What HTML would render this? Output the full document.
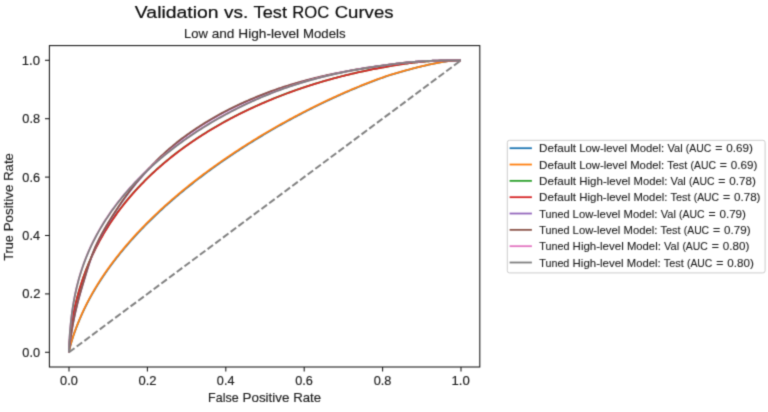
<!DOCTYPE html>
<html><head><meta charset="utf-8"><title>ROC</title>
<style>html,body{margin:0;padding:0;background:#fff}svg{display:block}text{font-family:"Liberation Sans",sans-serif;fill:#1c1c1c;stroke:#1c1c1c;stroke-width:0.1px}</style></head>
<body>
<svg width="768" height="412" viewBox="0 0 768 412">
<defs><filter id="b" x="0" y="0" width="768" height="412" filterUnits="userSpaceOnUse" color-interpolation-filters="sRGB"><feConvolveMatrix order="3" kernelMatrix="0.0246 0.1077 0.0246 0.1077 0.4706 0.1077 0.0246 0.1077 0.0246" edgeMode="duplicate" preserveAlpha="true"/></filter></defs>
<g filter="url(#b)">
<rect width="768" height="412" fill="#ffffff"/>
<g fill="none" stroke-width="1.8" stroke-linejoin="round" stroke-linecap="butt">
<path d="M69.00,352.30 L69.00,352.30 L69.00,352.30 L69.00,352.29 L69.00,352.28 L69.00,352.26 L69.01,352.24 L69.01,352.22 L69.01,352.19 L69.02,352.15 L69.02,352.11 L69.03,352.07 L69.03,352.02 L69.04,351.97 L69.05,351.91 L69.06,351.85 L69.07,351.78 L69.08,351.70 L69.10,351.62 L69.11,351.54 L69.13,351.45 L69.14,351.36 L69.16,351.26 L69.18,351.15 L69.20,351.04 L69.22,350.93 L69.24,350.81 L69.27,350.68 L69.29,350.55 L69.32,350.42 L69.35,350.28 L69.38,350.13 L69.41,349.98 L69.44,349.82 L69.47,349.66 L69.51,349.50 L69.55,349.32 L69.58,349.15 L69.62,348.97 L69.67,348.78 L69.71,348.59 L69.75,348.39 L69.80,348.19 L69.85,347.98 L69.90,347.77 L69.95,347.55 L70.01,347.33 L70.06,347.10 L70.12,346.87 L70.18,346.63 L70.24,346.39 L70.30,346.15 L70.37,345.89 L70.43,345.64 L70.50,345.38 L70.57,345.11 L70.65,344.84 L70.72,344.56 L70.80,344.28 L70.87,344.00 L70.96,343.71 L71.04,343.42 L71.12,343.12 L71.21,342.81 L71.30,342.50 L71.39,342.19 L71.48,341.87 L71.58,341.55 L71.67,341.22 L71.77,340.89 L71.87,340.56 L71.98,340.22 L72.08,339.87 L72.19,339.52 L72.30,339.17 L72.42,338.81 L72.53,338.45 L72.65,338.08 L72.77,337.71 L72.89,337.33 L73.01,336.95 L73.14,336.57 L73.27,336.18 L73.40,335.78 L73.53,335.39 L73.67,334.99 L73.81,334.58 L73.95,334.17 L74.09,333.76 L74.24,333.34 L74.39,332.92 L74.54,332.49 L74.69,332.06 L74.85,331.62 L75.01,331.19 L75.17,330.74 L75.33,330.30 L75.50,329.85 L75.67,329.39 L75.84,328.93 L76.01,328.47 L76.19,328.00 L76.37,327.53 L76.55,327.06 L76.73,326.58 L76.92,326.10 L77.11,325.61 L77.30,325.13 L77.50,324.63 L77.70,324.14 L77.90,323.64 L78.10,323.13 L78.31,322.62 L78.52,322.11 L78.73,321.60 L78.95,321.08 L79.16,320.56 L79.38,320.03 L79.61,319.50 L79.83,318.97 L80.06,318.43 L80.29,317.89 L80.53,317.35 L80.77,316.81 L81.01,316.26 L81.25,315.70 L81.50,315.15 L81.75,314.59 L82.00,314.03 L82.25,313.47 L82.51,312.91 L82.77,312.34 L83.04,311.77 L83.31,311.20 L83.58,310.62 L83.85,310.04 L84.13,309.47 L84.41,308.88 L84.69,308.30 L84.97,307.71 L85.26,307.13 L85.55,306.54 L85.85,305.94 L86.15,305.35 L86.45,304.75 L86.75,304.15 L87.06,303.55 L87.37,302.95 L87.69,302.34 L88.00,301.73 L88.32,301.12 L88.65,300.51 L88.97,299.90 L89.30,299.28 L89.64,298.67 L89.97,298.05 L90.31,297.42 L90.66,296.80 L91.00,296.18 L91.35,295.55 L91.71,294.92 L92.06,294.29 L92.42,293.66 L92.79,293.02 L93.15,292.39 L93.52,291.75 L93.90,291.11 L94.27,290.47 L94.65,289.83 L95.04,289.18 L95.42,288.54 L95.81,287.89 L96.21,287.24 L96.60,286.59 L97.00,285.94 L97.41,285.28 L97.82,284.63 L98.23,283.97 L98.64,283.31 L99.06,282.65 L99.48,281.99 L99.91,281.33 L100.34,280.66 L100.77,280.00 L101.20,279.33 L101.64,278.66 L102.09,277.99 L102.53,277.32 L102.98,276.64 L103.44,275.97 L103.89,275.29 L104.35,274.62 L104.82,273.94 L105.29,273.26 L105.76,272.58 L106.23,271.89 L106.71,271.21 L107.20,270.52 L107.68,269.84 L108.17,269.15 L108.67,268.46 L109.17,267.77 L109.67,267.08 L110.17,266.39 L110.68,265.69 L111.19,265.00 L111.71,264.30 L112.23,263.60 L112.75,262.91 L113.28,262.21 L113.81,261.51 L114.35,260.80 L114.89,260.10 L115.43,259.40 L115.98,258.69 L116.53,257.99 L117.08,257.28 L117.64,256.57 L118.20,255.86 L118.77,255.15 L119.34,254.44 L119.91,253.73 L120.49,253.01 L121.07,252.30 L121.66,251.58 L122.25,250.87 L122.84,250.15 L123.44,249.43 L124.04,248.71 L124.65,247.99 L125.26,247.27 L125.87,246.55 L126.49,245.83 L127.11,245.10 L127.74,244.38 L128.37,243.65 L129.00,242.93 L129.64,242.20 L130.28,241.47 L130.92,240.74 L131.57,240.01 L132.23,239.28 L132.89,238.55 L133.55,237.82 L134.21,237.08 L134.88,236.35 L135.56,235.62 L136.24,234.88 L136.92,234.14 L137.61,233.41 L138.30,232.67 L139.59,231.30 L140.88,229.94 L142.17,228.60 L143.46,227.27 L144.75,225.95 L146.04,224.64 L147.33,223.34 L148.62,222.05 L149.91,220.77 L151.20,219.51 L152.50,218.25 L153.79,217.00 L155.08,215.77 L156.37,214.54 L157.66,213.32 L158.95,212.11 L160.24,210.91 L161.53,209.72 L162.82,208.54 L164.11,207.36 L165.40,206.20 L166.69,205.04 L167.99,203.89 L169.28,202.75 L170.57,201.62 L171.86,200.49 L173.15,199.37 L174.44,198.26 L175.73,197.16 L177.02,196.06 L178.31,194.97 L179.60,193.89 L180.89,192.81 L182.18,191.74 L183.47,190.68 L184.77,189.62 L186.06,188.57 L187.35,187.53 L188.64,186.49 L189.93,185.46 L191.22,184.43 L192.51,183.42 L193.80,182.40 L195.09,181.39 L196.38,180.39 L197.67,179.40 L198.96,178.41 L200.26,177.42 L201.55,176.44 L202.84,175.47 L204.13,174.50 L205.42,173.54 L206.71,172.58 L208.00,171.62 L209.29,170.68 L210.58,169.73 L211.87,168.80 L213.16,167.86 L214.45,166.93 L215.75,166.01 L217.04,165.09 L218.33,164.18 L219.62,163.27 L220.91,162.36 L222.20,161.46 L223.49,160.57 L224.78,159.68 L226.07,158.79 L227.36,157.91 L228.65,157.03 L229.94,156.16 L231.24,155.29 L232.53,154.42 L233.82,153.56 L235.11,152.71 L236.40,151.85 L237.69,151.00 L238.98,150.16 L240.27,149.32 L241.56,148.48 L242.85,147.65 L244.14,146.82 L245.43,146.00 L246.72,145.18 L248.02,144.36 L249.31,143.55 L250.60,142.74 L251.89,141.93 L253.18,141.13 L254.47,140.33 L255.76,139.54 L257.05,138.75 L258.34,137.96 L259.63,137.17 L260.92,136.39 L262.21,135.62 L263.51,134.85 L264.80,134.08 L266.09,133.31 L267.38,132.55 L268.67,131.79 L269.96,131.03 L271.25,130.28 L272.54,129.53 L273.83,128.79 L275.12,128.05 L276.41,127.31 L277.70,126.57 L279.00,125.84 L280.29,125.11 L281.58,124.39 L282.87,123.67 L284.16,122.95 L285.45,122.23 L286.74,121.52 L288.03,120.81 L289.32,120.11 L290.61,119.41 L291.90,118.71 L293.19,118.01 L294.48,117.32 L295.78,116.63 L297.07,115.94 L298.36,115.26 L299.65,114.58 L300.94,113.90 L302.23,113.23 L303.52,112.56 L304.81,111.89 L306.10,111.23 L307.39,110.57 L308.68,109.91 L309.97,109.26 L311.27,108.61 L312.56,107.96 L313.85,107.31 L315.14,106.67 L316.43,106.03 L317.72,105.40 L319.01,104.76 L320.30,104.14 L321.59,103.51 L322.88,102.89 L324.17,102.27 L325.46,101.65 L326.76,101.04 L328.05,100.43 L329.34,99.82 L330.63,99.21 L331.92,98.61 L333.21,98.02 L334.50,97.42 L335.79,96.83 L337.08,96.24 L338.37,95.66 L339.66,95.07 L340.95,94.50 L342.25,93.92 L343.54,93.35 L344.83,92.78 L346.12,92.21 L347.41,91.65 L348.70,91.09 L349.99,90.54 L351.28,89.99 L352.57,89.44 L353.86,88.89 L355.15,88.35 L356.44,87.81 L357.73,87.27 L359.03,86.74 L360.32,86.21 L361.61,85.69 L362.90,85.17 L364.19,84.65 L365.48,84.13 L366.77,83.62 L368.06,83.12 L369.35,82.61 L370.64,82.11 L371.93,81.62 L373.22,81.12 L374.52,80.63 L375.81,80.15 L377.10,79.67 L378.39,79.19 L379.68,78.72 L380.97,78.25 L382.26,77.78 L383.55,77.32 L384.84,76.86 L386.13,76.41 L387.42,75.96 L388.71,75.51 L390.01,75.11 L391.30,74.72 L392.59,74.33 L393.88,73.95 L395.17,73.56 L396.46,73.18 L397.75,72.80 L399.04,72.43 L400.33,72.05 L401.62,71.68 L402.91,71.31 L404.20,70.95 L405.49,70.59 L406.79,70.23 L408.08,69.87 L409.37,69.52 L410.66,69.17 L411.95,68.83 L413.24,68.49 L414.53,68.15 L415.82,67.81 L417.11,67.48 L418.40,67.16 L419.69,66.84 L420.98,66.52 L422.28,66.21 L423.57,65.91 L424.86,65.60 L426.15,65.31 L427.44,65.01 L428.73,64.72 L430.02,64.43 L431.31,64.15 L432.60,63.87 L433.89,63.59 L435.18,63.33 L436.47,63.08 L437.77,62.83 L439.06,62.59 L440.35,62.36 L441.64,62.15 L442.93,61.94 L444.22,61.74 L445.51,61.55 L446.80,61.37 L448.09,61.20 L449.38,61.04 L450.67,60.89 L451.96,60.76 L453.26,60.64 L454.55,60.53 L455.84,60.45 L457.13,60.38 L458.42,60.34 L459.71,60.31 L461.00,60.30" stroke="#1f77b4"/>
<path d="M69.00,352.30 L69.00,352.30 L69.00,352.29 L69.00,352.29 L69.00,352.28 L69.00,352.26 L69.01,352.24 L69.01,352.21 L69.01,352.18 L69.02,352.15 L69.02,352.11 L69.03,352.07 L69.03,352.02 L69.04,351.96 L69.05,351.90 L69.06,351.84 L69.07,351.77 L69.08,351.69 L69.10,351.61 L69.11,351.53 L69.13,351.44 L69.14,351.34 L69.16,351.24 L69.18,351.13 L69.20,351.02 L69.22,350.90 L69.24,350.78 L69.27,350.66 L69.29,350.52 L69.32,350.38 L69.35,350.24 L69.38,350.09 L69.41,349.94 L69.44,349.78 L69.47,349.62 L69.51,349.45 L69.55,349.28 L69.58,349.10 L69.62,348.91 L69.67,348.72 L69.71,348.53 L69.75,348.33 L69.80,348.12 L69.85,347.91 L69.90,347.70 L69.95,347.48 L70.01,347.26 L70.06,347.03 L70.12,346.79 L70.18,346.55 L70.24,346.31 L70.30,346.06 L70.37,345.80 L70.43,345.54 L70.50,345.28 L70.57,345.01 L70.65,344.74 L70.72,344.46 L70.80,344.17 L70.87,343.88 L70.96,343.59 L71.04,343.29 L71.12,342.99 L71.21,342.68 L71.30,342.37 L71.39,342.06 L71.48,341.73 L71.58,341.41 L71.67,341.08 L71.77,340.74 L71.87,340.40 L71.98,340.06 L72.08,339.71 L72.19,339.36 L72.30,339.00 L72.42,338.64 L72.53,338.27 L72.65,337.90 L72.77,337.53 L72.89,337.15 L73.01,336.76 L73.14,336.37 L73.27,335.98 L73.40,335.58 L73.53,335.18 L73.67,334.78 L73.81,334.37 L73.95,333.95 L74.09,333.54 L74.24,333.11 L74.39,332.69 L74.54,332.26 L74.69,331.82 L74.85,331.39 L75.01,330.94 L75.17,330.50 L75.33,330.05 L75.50,329.59 L75.67,329.13 L75.84,328.67 L76.01,328.20 L76.19,327.73 L76.37,327.26 L76.55,326.78 L76.73,326.30 L76.92,325.81 L77.11,325.33 L77.30,324.83 L77.50,324.34 L77.70,323.84 L77.90,323.33 L78.10,322.82 L78.31,322.31 L78.52,321.80 L78.73,321.28 L78.95,320.76 L79.16,320.23 L79.38,319.70 L79.61,319.17 L79.83,318.63 L80.06,318.09 L80.29,317.55 L80.53,317.00 L80.77,316.45 L81.01,315.90 L81.25,315.34 L81.50,314.78 L81.75,314.22 L82.00,313.66 L82.25,313.09 L82.51,312.52 L82.77,311.95 L83.04,311.38 L83.31,310.80 L83.58,310.23 L83.85,309.64 L84.13,309.06 L84.41,308.48 L84.69,307.89 L84.97,307.30 L85.26,306.71 L85.55,306.11 L85.85,305.52 L86.15,304.92 L86.45,304.32 L86.75,303.72 L87.06,303.11 L87.37,302.50 L87.69,301.89 L88.00,301.28 L88.32,300.67 L88.65,300.06 L88.97,299.44 L89.30,298.82 L89.64,298.20 L89.97,297.58 L90.31,296.95 L90.66,296.32 L91.00,295.70 L91.35,295.07 L91.71,294.43 L92.06,293.80 L92.42,293.17 L92.79,292.53 L93.15,291.89 L93.52,291.25 L93.90,290.61 L94.27,289.96 L94.65,289.32 L95.04,288.67 L95.42,288.02 L95.81,287.37 L96.21,286.72 L96.60,286.06 L97.00,285.41 L97.41,284.75 L97.82,284.09 L98.23,283.43 L98.64,282.77 L99.06,282.11 L99.48,281.44 L99.91,280.78 L100.34,280.11 L100.77,279.44 L101.20,278.77 L101.64,278.10 L102.09,277.42 L102.53,276.75 L102.98,276.07 L103.44,275.40 L103.89,274.72 L104.35,274.04 L104.82,273.36 L105.29,272.68 L105.76,271.99 L106.23,271.31 L106.71,270.62 L107.20,269.93 L107.68,269.24 L108.17,268.55 L108.67,267.86 L109.17,267.17 L109.67,266.48 L110.17,265.78 L110.68,265.09 L111.19,264.39 L111.71,263.69 L112.23,262.99 L112.75,262.29 L113.28,261.59 L113.81,260.89 L114.35,260.18 L114.89,259.48 L115.43,258.77 L115.98,258.06 L116.53,257.36 L117.08,256.65 L117.64,255.94 L118.20,255.23 L118.77,254.51 L119.34,253.80 L119.91,253.09 L120.49,252.37 L121.07,251.66 L121.66,250.94 L122.25,250.22 L122.84,249.50 L123.44,248.78 L124.04,248.06 L124.65,247.34 L125.26,246.62 L125.87,245.89 L126.49,245.17 L127.11,244.44 L127.74,243.72 L128.37,242.99 L129.00,242.26 L129.64,241.53 L130.28,240.80 L130.92,240.07 L131.57,239.34 L132.23,238.61 L132.89,237.88 L133.55,237.14 L134.21,236.41 L134.88,235.67 L135.56,234.94 L136.24,234.20 L136.92,233.46 L137.61,232.73 L138.30,231.99 L139.59,230.62 L140.88,229.26 L142.17,227.91 L143.46,226.58 L144.75,225.26 L146.04,223.95 L147.33,222.65 L148.62,221.36 L149.91,220.08 L151.20,218.81 L152.50,217.55 L153.79,216.31 L155.08,215.07 L156.37,213.84 L157.66,212.62 L158.95,211.41 L160.24,210.21 L161.53,209.02 L162.82,207.84 L164.11,206.67 L165.40,205.50 L166.69,204.34 L167.99,203.19 L169.28,202.05 L170.57,200.92 L171.86,199.79 L173.15,198.67 L174.44,197.56 L175.73,196.46 L177.02,195.36 L178.31,194.27 L179.60,193.19 L180.89,192.12 L182.18,191.05 L183.47,189.99 L184.77,188.93 L186.06,187.88 L187.35,186.84 L188.64,185.80 L189.93,184.77 L191.22,183.75 L192.51,182.73 L193.80,181.72 L195.09,180.71 L196.38,179.71 L197.67,178.72 L198.96,177.73 L200.26,176.74 L201.55,175.77 L202.84,174.79 L204.13,173.83 L205.42,172.87 L206.71,171.91 L208.00,170.96 L209.29,170.01 L210.58,169.07 L211.87,168.13 L213.16,167.20 L214.45,166.28 L215.75,165.36 L217.04,164.44 L218.33,163.53 L219.62,162.62 L220.91,161.72 L222.20,160.82 L223.49,159.93 L224.78,159.04 L226.07,158.15 L227.36,157.27 L228.65,156.40 L229.94,155.53 L231.24,154.66 L232.53,153.80 L233.82,152.94 L235.11,152.08 L236.40,151.23 L237.69,150.39 L238.98,149.54 L240.27,148.71 L241.56,147.87 L242.85,147.04 L244.14,146.22 L245.43,145.39 L246.72,144.58 L248.02,143.76 L249.31,142.95 L250.60,142.15 L251.89,141.34 L253.18,140.54 L254.47,139.75 L255.76,138.96 L257.05,138.17 L258.34,137.38 L259.63,136.60 L260.92,135.83 L262.21,135.05 L263.51,134.28 L264.80,133.52 L266.09,132.75 L267.38,132.00 L268.67,131.24 L269.96,130.49 L271.25,129.74 L272.54,128.99 L273.83,128.25 L275.12,127.51 L276.41,126.78 L277.70,126.05 L279.00,125.32 L280.29,124.59 L281.58,123.87 L282.87,123.15 L284.16,122.44 L285.45,121.73 L286.74,121.02 L288.03,120.31 L289.32,119.61 L290.61,118.91 L291.90,118.22 L293.19,117.53 L294.48,116.84 L295.78,116.15 L297.07,115.47 L298.36,114.79 L299.65,114.11 L300.94,113.44 L302.23,112.77 L303.52,112.10 L304.81,111.44 L306.10,110.78 L307.39,110.12 L308.68,109.47 L309.97,108.82 L311.27,108.17 L312.56,107.53 L313.85,106.89 L315.14,106.25 L316.43,105.61 L317.72,104.98 L319.01,104.35 L320.30,103.73 L321.59,103.11 L322.88,102.49 L324.17,101.87 L325.46,101.26 L326.76,100.65 L328.05,100.04 L329.34,99.44 L330.63,98.84 L331.92,98.24 L333.21,97.65 L334.50,97.06 L335.79,96.47 L337.08,95.89 L338.37,95.30 L339.66,94.73 L340.95,94.15 L342.25,93.58 L343.54,93.01 L344.83,92.45 L346.12,91.89 L347.41,91.33 L348.70,90.77 L349.99,90.22 L351.28,89.68 L352.57,89.13 L353.86,88.59 L355.15,88.05 L356.44,87.52 L357.73,86.99 L359.03,86.46 L360.32,85.93 L361.61,85.41 L362.90,84.89 L364.19,84.38 L365.48,83.87 L366.77,83.36 L368.06,82.86 L369.35,82.36 L370.64,81.87 L371.93,81.37 L373.22,80.88 L374.52,80.40 L375.81,79.92 L377.10,79.44 L378.39,78.97 L379.68,78.50 L380.97,78.03 L382.26,77.57 L383.55,77.11 L384.84,76.66 L386.13,76.21 L387.42,75.77 L388.71,75.32 L390.01,74.93 L391.30,74.54 L392.59,74.16 L393.88,73.77 L395.17,73.39 L396.46,73.02 L397.75,72.64 L399.04,72.27 L400.33,71.90 L401.62,71.53 L402.91,71.17 L404.20,70.81 L405.49,70.45 L406.79,70.10 L408.08,69.75 L409.37,69.40 L410.66,69.05 L411.95,68.71 L413.24,68.37 L414.53,68.04 L415.82,67.71 L417.11,67.38 L418.40,67.06 L419.69,66.75 L420.98,66.43 L422.28,66.13 L423.57,65.83 L424.86,65.53 L426.15,65.23 L427.44,64.94 L428.73,64.65 L430.02,64.37 L431.31,64.09 L432.60,63.81 L433.89,63.54 L435.18,63.28 L436.47,63.03 L437.77,62.79 L439.06,62.55 L440.35,62.33 L441.64,62.11 L442.93,61.91 L444.22,61.71 L445.51,61.52 L446.80,61.35 L448.09,61.18 L449.38,61.02 L450.67,60.88 L451.96,60.75 L453.26,60.63 L454.55,60.53 L455.84,60.44 L457.13,60.38 L458.42,60.34 L459.71,60.31 L461.00,60.30" stroke="#ff7f0e"/>
<path d="M69.00,352.30 L69.00,352.29 L69.00,352.24 L69.00,352.18 L69.00,352.10 L69.00,351.99 L69.01,351.87 L69.01,351.73 L69.01,351.57 L69.02,351.40 L69.02,351.21 L69.03,351.01 L69.03,350.80 L69.04,350.57 L69.05,350.32 L69.06,350.07 L69.07,349.80 L69.08,349.52 L69.10,349.23 L69.11,348.93 L69.13,348.62 L69.14,348.29 L69.16,347.96 L69.18,347.61 L69.20,347.26 L69.22,346.89 L69.24,346.52 L69.27,346.14 L69.29,345.74 L69.32,345.34 L69.35,344.93 L69.38,344.52 L69.41,344.09 L69.44,343.65 L69.47,343.21 L69.51,342.76 L69.55,342.30 L69.58,341.84 L69.62,341.37 L69.67,340.89 L69.71,340.40 L69.75,339.91 L69.80,339.41 L69.85,338.90 L69.90,338.38 L69.95,337.86 L70.01,337.34 L70.06,336.80 L70.12,336.27 L70.18,335.72 L70.24,335.17 L70.30,334.61 L70.37,334.05 L70.43,333.49 L70.50,332.91 L70.57,332.33 L70.65,331.75 L70.72,331.16 L70.80,330.57 L70.87,329.97 L70.96,329.37 L71.04,328.76 L71.12,328.15 L71.21,327.53 L71.30,326.91 L71.39,326.28 L71.48,325.65 L71.58,325.01 L71.67,324.37 L71.77,323.73 L71.87,323.08 L71.98,322.43 L72.08,321.78 L72.19,321.12 L72.30,320.45 L72.42,319.79 L72.53,319.12 L72.65,318.44 L72.77,317.76 L72.89,317.08 L73.01,316.40 L73.14,315.71 L73.27,315.02 L73.40,314.32 L73.53,313.63 L73.67,312.93 L73.81,312.22 L73.95,311.52 L74.09,310.81 L74.24,310.11 L74.39,309.40 L74.54,308.68 L74.69,307.97 L74.85,307.25 L75.01,306.53 L75.17,305.81 L75.33,305.09 L75.50,304.36 L75.67,303.64 L75.84,302.91 L76.01,302.18 L76.19,301.45 L76.37,300.72 L76.55,299.98 L76.73,299.24 L76.92,298.51 L77.11,297.77 L77.30,297.03 L77.50,296.28 L77.70,295.54 L77.90,294.80 L78.10,294.05 L78.31,293.30 L78.52,292.55 L78.73,291.80 L78.95,291.05 L79.16,290.30 L79.38,289.55 L79.61,288.79 L79.83,288.04 L80.06,287.28 L80.29,286.52 L80.53,285.77 L80.77,285.01 L81.01,284.25 L81.25,283.49 L81.50,282.72 L81.75,281.96 L82.00,281.20 L82.25,280.43 L82.51,279.67 L82.77,278.90 L83.04,278.14 L83.31,277.37 L83.58,276.60 L83.85,275.83 L84.13,275.06 L84.41,274.29 L84.69,273.52 L84.97,272.75 L85.26,271.98 L85.55,271.21 L85.85,270.44 L86.15,269.67 L86.45,268.89 L86.75,268.12 L87.06,267.34 L87.37,266.57 L87.69,265.79 L88.00,265.02 L88.32,264.24 L88.65,263.47 L88.97,262.69 L89.30,261.92 L89.64,261.14 L89.97,260.36 L90.31,259.59 L90.66,258.81 L91.00,258.03 L91.35,257.25 L91.71,256.47 L92.06,255.70 L92.42,254.92 L92.79,254.14 L93.15,253.36 L93.52,252.58 L93.90,251.81 L94.27,251.03 L94.65,250.25 L95.04,249.47 L95.42,248.69 L95.81,247.91 L96.21,247.13 L96.60,246.35 L97.00,245.58 L97.41,244.80 L97.82,244.02 L98.23,243.24 L98.64,242.46 L99.06,241.68 L99.48,240.91 L99.91,240.13 L100.34,239.35 L100.77,238.57 L101.20,237.80 L101.64,237.02 L102.09,236.24 L102.53,235.47 L102.98,234.69 L103.44,233.91 L103.89,233.14 L104.35,232.36 L104.82,231.58 L105.29,230.81 L105.76,230.03 L106.23,229.26 L106.71,228.49 L107.20,227.71 L107.68,226.94 L108.17,226.16 L108.67,225.39 L109.17,224.62 L109.67,223.85 L110.17,223.08 L110.68,222.30 L111.19,221.53 L111.71,220.76 L112.23,219.99 L112.75,219.22 L113.28,218.45 L113.81,217.68 L114.35,216.92 L114.89,216.15 L115.43,215.38 L115.98,214.61 L116.53,213.85 L117.08,213.08 L117.64,212.32 L118.20,211.55 L118.77,210.79 L119.34,210.02 L119.91,209.26 L120.49,208.50 L121.07,207.74 L121.66,206.98 L122.25,206.22 L122.84,205.46 L123.44,204.70 L124.04,203.94 L124.65,203.18 L125.26,202.42 L125.87,201.67 L126.49,200.91 L127.11,200.15 L127.74,199.40 L128.37,198.65 L129.00,197.89 L129.64,197.14 L130.28,196.39 L130.92,195.64 L131.57,194.89 L132.23,194.14 L132.89,193.39 L133.55,192.64 L134.21,191.89 L134.88,191.15 L135.56,190.40 L136.24,189.66 L136.92,188.91 L137.61,188.17 L138.30,187.43 L139.59,186.05 L140.88,184.70 L142.17,183.36 L143.46,182.04 L144.75,180.74 L146.04,179.45 L147.33,178.18 L148.62,176.92 L149.91,175.68 L151.20,174.45 L152.50,173.24 L153.79,172.04 L155.08,170.85 L156.37,169.68 L157.66,168.52 L158.95,167.38 L160.24,166.25 L161.53,165.12 L162.82,164.02 L164.11,162.92 L165.40,161.83 L166.69,160.76 L167.99,159.70 L169.28,158.64 L170.57,157.60 L171.86,156.57 L173.15,155.55 L174.44,154.54 L175.73,153.54 L177.02,152.55 L178.31,151.57 L179.60,150.60 L180.89,149.64 L182.18,148.69 L183.47,147.74 L184.77,146.81 L186.06,145.88 L187.35,144.96 L188.64,144.06 L189.93,143.15 L191.22,142.26 L192.51,141.38 L193.80,140.50 L195.09,139.63 L196.38,138.77 L197.67,137.92 L198.96,137.08 L200.26,136.24 L201.55,135.41 L202.84,134.59 L204.13,133.77 L205.42,132.96 L206.71,132.16 L208.00,131.36 L209.29,130.58 L210.58,129.79 L211.87,129.02 L213.16,128.25 L214.45,127.49 L215.75,126.73 L217.04,125.99 L218.33,125.24 L219.62,124.51 L220.91,123.78 L222.20,123.05 L223.49,122.33 L224.78,121.62 L226.07,120.91 L227.36,120.21 L228.65,119.52 L229.94,118.83 L231.24,118.15 L232.53,117.47 L233.82,116.79 L235.11,116.13 L236.40,115.47 L237.69,114.81 L238.98,114.16 L240.27,113.51 L241.56,112.87 L242.85,112.24 L244.14,111.60 L245.43,110.98 L246.72,110.36 L248.02,109.74 L249.31,109.13 L250.60,108.53 L251.89,107.93 L253.18,107.33 L254.47,106.74 L255.76,106.15 L257.05,105.57 L258.34,104.99 L259.63,104.42 L260.92,103.85 L262.21,103.29 L263.51,102.73 L264.80,102.17 L266.09,101.62 L267.38,101.08 L268.67,100.54 L269.96,100.00 L271.25,99.47 L272.54,98.94 L273.83,98.41 L275.12,97.89 L276.41,97.38 L277.70,96.87 L279.00,96.36 L280.29,95.85 L281.58,95.35 L282.87,94.86 L284.16,94.37 L285.45,93.88 L286.74,93.40 L288.03,92.92 L289.32,92.44 L290.61,91.97 L291.90,91.50 L293.19,91.04 L294.48,90.58 L295.78,90.12 L297.07,89.67 L298.36,89.22 L299.65,88.78 L300.94,88.34 L302.23,87.90 L303.52,87.47 L304.81,87.04 L306.10,86.61 L307.39,86.19 L308.68,85.77 L309.97,85.35 L311.27,84.94 L312.56,84.53 L313.85,84.13 L315.14,83.73 L316.43,83.33 L317.72,82.94 L319.01,82.55 L320.30,82.16 L321.59,81.78 L322.88,81.40 L324.17,81.02 L325.46,80.65 L326.76,80.28 L328.05,79.91 L329.34,79.55 L330.63,79.19 L331.92,78.83 L333.21,78.48 L334.50,78.13 L335.79,77.79 L337.08,77.44 L338.37,77.10 L339.66,76.77 L340.95,76.44 L342.25,76.11 L343.54,75.78 L344.83,75.46 L346.12,75.14 L347.41,74.83 L348.70,74.51 L349.99,74.20 L351.28,73.90 L352.57,73.60 L353.86,73.30 L355.15,73.00 L356.44,72.71 L357.73,72.42 L359.03,72.13 L360.32,71.85 L361.61,71.57 L362.90,71.29 L364.19,71.02 L365.48,70.75 L366.77,70.49 L368.06,70.22 L369.35,69.96 L370.64,69.71 L371.93,69.45 L373.22,69.20 L374.52,68.95 L375.81,68.71 L377.10,68.47 L378.39,68.23 L379.68,67.98 L380.97,67.73 L382.26,67.49 L383.55,67.25 L384.84,67.01 L386.13,66.78 L387.42,66.55 L388.71,66.32 L390.01,66.09 L391.30,65.87 L392.59,65.65 L393.88,65.44 L395.17,65.23 L396.46,65.02 L397.75,64.82 L399.04,64.62 L400.33,64.42 L401.62,64.23 L402.91,64.04 L404.20,63.86 L405.49,63.68 L406.79,63.51 L408.08,63.34 L409.37,63.17 L410.66,63.01 L411.95,62.85 L413.24,62.69 L414.53,62.54 L415.82,62.39 L417.11,62.25 L418.40,62.11 L419.69,61.98 L420.98,61.86 L422.28,61.75 L423.57,61.65 L424.86,61.55 L426.15,61.45 L427.44,61.36 L428.73,61.28 L430.02,61.20 L431.31,61.12 L432.60,61.04 L433.89,60.98 L435.18,60.91 L436.47,60.85 L437.77,60.79 L439.06,60.74 L440.35,60.69 L441.64,60.65 L442.93,60.61 L444.22,60.57 L445.51,60.53 L446.80,60.49 L448.09,60.46 L449.38,60.43 L450.67,60.41 L451.96,60.38 L453.26,60.36 L454.55,60.35 L455.84,60.33 L457.13,60.32 L458.42,60.31 L459.71,60.30 L461.00,60.30" stroke="#2ca02c"/>
<path d="M69.00,352.30 L69.00,352.29 L69.00,352.24 L69.00,352.18 L69.00,352.10 L69.00,351.99 L69.01,351.87 L69.01,351.73 L69.01,351.58 L69.02,351.41 L69.02,351.22 L69.03,351.02 L69.03,350.80 L69.04,350.58 L69.05,350.34 L69.06,350.08 L69.07,349.81 L69.08,349.54 L69.10,349.25 L69.11,348.95 L69.13,348.63 L69.14,348.31 L69.16,347.98 L69.18,347.64 L69.20,347.28 L69.22,346.92 L69.24,346.55 L69.27,346.17 L69.29,345.78 L69.32,345.38 L69.35,344.97 L69.38,344.55 L69.41,344.13 L69.44,343.69 L69.47,343.25 L69.51,342.80 L69.55,342.35 L69.58,341.88 L69.62,341.41 L69.67,340.94 L69.71,340.45 L69.75,339.96 L69.80,339.46 L69.85,338.95 L69.90,338.44 L69.95,337.92 L70.01,337.40 L70.06,336.87 L70.12,336.33 L70.18,335.79 L70.24,335.24 L70.30,334.68 L70.37,334.12 L70.43,333.56 L70.50,332.99 L70.57,332.41 L70.65,331.83 L70.72,331.24 L70.80,330.65 L70.87,330.05 L70.96,329.45 L71.04,328.85 L71.12,328.24 L71.21,327.62 L71.30,327.00 L71.39,326.37 L71.48,325.75 L71.58,325.11 L71.67,324.47 L71.77,323.83 L71.87,323.19 L71.98,322.54 L72.08,321.88 L72.19,321.22 L72.30,320.56 L72.42,319.90 L72.53,319.23 L72.65,318.55 L72.77,317.88 L72.89,317.20 L73.01,316.52 L73.14,315.83 L73.27,315.14 L73.40,314.45 L73.53,313.75 L73.67,313.05 L73.81,312.35 L73.95,311.65 L74.09,310.95 L74.24,310.24 L74.39,309.53 L74.54,308.82 L74.69,308.10 L74.85,307.39 L75.01,306.67 L75.17,305.95 L75.33,305.23 L75.50,304.51 L75.67,303.78 L75.84,303.06 L76.01,302.33 L76.19,301.60 L76.37,300.87 L76.55,300.13 L76.73,299.40 L76.92,298.66 L77.11,297.92 L77.30,297.18 L77.50,296.44 L77.70,295.70 L77.90,294.96 L78.10,294.21 L78.31,293.47 L78.52,292.72 L78.73,291.97 L78.95,291.22 L79.16,290.47 L79.38,289.72 L79.61,288.97 L79.83,288.21 L80.06,287.46 L80.29,286.70 L80.53,285.94 L80.77,285.18 L81.01,284.43 L81.25,283.67 L81.50,282.90 L81.75,282.14 L82.00,281.38 L82.25,280.62 L82.51,279.85 L82.77,279.09 L83.04,278.32 L83.31,277.56 L83.58,276.79 L83.85,276.02 L84.13,275.25 L84.41,274.49 L84.69,273.72 L84.97,272.95 L85.26,272.18 L85.55,271.41 L85.85,270.63 L86.15,269.86 L86.45,269.09 L86.75,268.32 L87.06,267.54 L87.37,266.77 L87.69,266.00 L88.00,265.22 L88.32,264.45 L88.65,263.67 L88.97,262.90 L89.30,262.12 L89.64,261.35 L89.97,260.57 L90.31,259.79 L90.66,259.02 L91.00,258.24 L91.35,257.46 L91.71,256.69 L92.06,255.91 L92.42,255.13 L92.79,254.35 L93.15,253.58 L93.52,252.80 L93.90,252.02 L94.27,251.24 L94.65,250.46 L95.04,249.69 L95.42,248.91 L95.81,248.13 L96.21,247.35 L96.60,246.57 L97.00,245.80 L97.41,245.02 L97.82,244.24 L98.23,243.46 L98.64,242.68 L99.06,241.91 L99.48,241.13 L99.91,240.35 L100.34,239.57 L100.77,238.80 L101.20,238.02 L101.64,237.24 L102.09,236.47 L102.53,235.69 L102.98,234.91 L103.44,234.14 L103.89,233.36 L104.35,232.59 L104.82,231.81 L105.29,231.04 L105.76,230.26 L106.23,229.49 L106.71,228.71 L107.20,227.94 L107.68,227.17 L108.17,226.39 L108.67,225.62 L109.17,224.85 L109.67,224.08 L110.17,223.31 L110.68,222.53 L111.19,221.76 L111.71,220.99 L112.23,220.22 L112.75,219.45 L113.28,218.68 L113.81,217.92 L114.35,217.15 L114.89,216.38 L115.43,215.61 L115.98,214.85 L116.53,214.08 L117.08,213.31 L117.64,212.55 L118.20,211.78 L118.77,211.02 L119.34,210.26 L119.91,209.49 L120.49,208.73 L121.07,207.97 L121.66,207.21 L122.25,206.45 L122.84,205.69 L123.44,204.93 L124.04,204.17 L124.65,203.41 L125.26,202.66 L125.87,201.90 L126.49,201.14 L127.11,200.39 L127.74,199.63 L128.37,198.88 L129.00,198.12 L129.64,197.37 L130.28,196.62 L130.92,195.87 L131.57,195.12 L132.23,194.37 L132.89,193.62 L133.55,192.87 L134.21,192.12 L134.88,191.38 L135.56,190.63 L136.24,189.89 L136.92,189.14 L137.61,188.40 L138.30,187.66 L139.59,186.28 L140.88,184.93 L142.17,183.59 L143.46,182.27 L144.75,180.96 L146.04,179.68 L147.33,178.40 L148.62,177.15 L149.91,175.90 L151.20,174.68 L152.50,173.46 L153.79,172.26 L155.08,171.08 L156.37,169.90 L157.66,168.74 L158.95,167.60 L160.24,166.46 L161.53,165.34 L162.82,164.23 L164.11,163.14 L165.40,162.05 L166.69,160.97 L167.99,159.91 L169.28,158.86 L170.57,157.82 L171.86,156.78 L173.15,155.76 L174.44,154.75 L175.73,153.75 L177.02,152.76 L178.31,151.78 L179.60,150.81 L180.89,149.84 L182.18,148.89 L183.47,147.94 L184.77,147.01 L186.06,146.08 L187.35,145.16 L188.64,144.25 L189.93,143.35 L191.22,142.46 L192.51,141.57 L193.80,140.70 L195.09,139.83 L196.38,138.97 L197.67,138.11 L198.96,137.27 L200.26,136.43 L201.55,135.60 L202.84,134.77 L204.13,133.96 L205.42,133.15 L206.71,132.34 L208.00,131.55 L209.29,130.76 L210.58,129.98 L211.87,129.20 L213.16,128.43 L214.45,127.67 L215.75,126.91 L217.04,126.16 L218.33,125.42 L219.62,124.68 L220.91,123.95 L222.20,123.22 L223.49,122.50 L224.78,121.79 L226.07,121.08 L227.36,120.38 L228.65,119.68 L229.94,118.99 L231.24,118.31 L232.53,117.63 L233.82,116.95 L235.11,116.29 L236.40,115.62 L237.69,114.97 L238.98,114.31 L240.27,113.67 L241.56,113.02 L242.85,112.39 L244.14,111.76 L245.43,111.13 L246.72,110.51 L248.02,109.89 L249.31,109.28 L250.60,108.67 L251.89,108.07 L253.18,107.47 L254.47,106.88 L255.76,106.29 L257.05,105.71 L258.34,105.13 L259.63,104.56 L260.92,103.99 L262.21,103.42 L263.51,102.86 L264.80,102.31 L266.09,101.75 L267.38,101.21 L268.67,100.67 L269.96,100.13 L271.25,99.59 L272.54,99.06 L273.83,98.54 L275.12,98.02 L276.41,97.50 L277.70,96.99 L279.00,96.48 L280.29,95.97 L281.58,95.47 L282.87,94.98 L284.16,94.48 L285.45,93.99 L286.74,93.51 L288.03,93.03 L289.32,92.55 L290.61,92.08 L291.90,91.61 L293.19,91.15 L294.48,90.68 L295.78,90.23 L297.07,89.77 L298.36,89.32 L299.65,88.88 L300.94,88.44 L302.23,88.00 L303.52,87.56 L304.81,87.13 L306.10,86.70 L307.39,86.28 L308.68,85.86 L309.97,85.44 L311.27,85.03 L312.56,84.62 L313.85,84.22 L315.14,83.81 L316.43,83.42 L317.72,83.02 L319.01,82.63 L320.30,82.24 L321.59,81.86 L322.88,81.48 L324.17,81.10 L325.46,80.72 L326.76,80.35 L328.05,79.99 L329.34,79.62 L330.63,79.26 L331.92,78.91 L333.21,78.55 L334.50,78.20 L335.79,77.86 L337.08,77.51 L338.37,77.17 L339.66,76.84 L340.95,76.50 L342.25,76.17 L343.54,75.85 L344.83,75.52 L346.12,75.20 L347.41,74.89 L348.70,74.57 L349.99,74.26 L351.28,73.96 L352.57,73.65 L353.86,73.35 L355.15,73.06 L356.44,72.76 L357.73,72.47 L359.03,72.18 L360.32,71.90 L361.61,71.62 L362.90,71.34 L364.19,71.07 L365.48,70.80 L366.77,70.53 L368.06,70.27 L369.35,70.00 L370.64,69.75 L371.93,69.49 L373.22,69.24 L374.52,68.99 L375.81,68.75 L377.10,68.51 L378.39,68.26 L379.68,68.02 L380.97,67.77 L382.26,67.52 L383.55,67.28 L384.84,67.05 L386.13,66.81 L387.42,66.58 L388.71,66.35 L390.01,66.12 L391.30,65.90 L392.59,65.68 L393.88,65.46 L395.17,65.25 L396.46,65.04 L397.75,64.84 L399.04,64.64 L400.33,64.44 L401.62,64.25 L402.91,64.06 L404.20,63.88 L405.49,63.70 L406.79,63.53 L408.08,63.36 L409.37,63.19 L410.66,63.02 L411.95,62.86 L413.24,62.70 L414.53,62.55 L415.82,62.40 L417.11,62.26 L418.40,62.12 L419.69,61.99 L420.98,61.87 L422.28,61.76 L423.57,61.66 L424.86,61.56 L426.15,61.46 L427.44,61.37 L428.73,61.28 L430.02,61.20 L431.31,61.12 L432.60,61.05 L433.89,60.98 L435.18,60.92 L436.47,60.85 L437.77,60.80 L439.06,60.75 L440.35,60.70 L441.64,60.65 L442.93,60.61 L444.22,60.57 L445.51,60.53 L446.80,60.50 L448.09,60.46 L449.38,60.43 L450.67,60.41 L451.96,60.38 L453.26,60.36 L454.55,60.35 L455.84,60.33 L457.13,60.32 L458.42,60.31 L459.71,60.30 L461.00,60.30" stroke="#d62728"/>
<path d="M69.00,352.30 L69.00,352.29 L69.00,352.27 L69.00,352.24 L69.00,352.19 L69.00,352.14 L69.01,352.07 L69.01,351.99 L69.01,351.90 L69.02,351.79 L69.02,351.68 L69.03,351.56 L69.03,351.43 L69.04,351.29 L69.05,351.13 L69.06,350.97 L69.07,350.80 L69.08,350.63 L69.10,350.44 L69.11,350.24 L69.13,350.04 L69.14,349.83 L69.16,349.60 L69.18,349.38 L69.20,349.14 L69.22,348.89 L69.24,348.64 L69.27,348.38 L69.29,348.11 L69.32,347.84 L69.35,347.56 L69.38,347.27 L69.41,346.97 L69.44,346.67 L69.47,346.36 L69.51,346.04 L69.55,345.72 L69.58,345.39 L69.62,345.06 L69.67,344.71 L69.71,344.36 L69.75,344.01 L69.80,343.65 L69.85,343.28 L69.90,342.91 L69.95,342.53 L70.01,342.14 L70.06,341.75 L70.12,341.36 L70.18,340.96 L70.24,340.55 L70.30,340.13 L70.37,339.72 L70.43,339.29 L70.50,338.86 L70.57,338.43 L70.65,337.99 L70.72,337.55 L70.80,337.10 L70.87,336.59 L70.96,336.05 L71.04,335.50 L71.12,334.95 L71.21,334.38 L71.30,333.81 L71.39,333.22 L71.48,332.63 L71.58,332.03 L71.67,331.43 L71.77,330.82 L71.87,330.20 L71.98,329.58 L72.08,328.95 L72.19,328.32 L72.30,327.68 L72.42,327.04 L72.53,326.39 L72.65,325.73 L72.77,325.08 L72.89,324.41 L73.01,323.74 L73.14,323.07 L73.27,322.39 L73.40,321.71 L73.53,321.03 L73.67,320.34 L73.81,319.64 L73.95,318.94 L74.09,318.24 L74.24,317.53 L74.39,316.82 L74.54,316.10 L74.69,315.39 L74.85,314.66 L75.01,313.94 L75.17,313.21 L75.33,312.48 L75.50,311.75 L75.67,311.01 L75.84,310.27 L76.01,309.53 L76.19,308.78 L76.37,308.04 L76.55,307.28 L76.73,306.53 L76.92,305.77 L77.11,305.01 L77.30,304.24 L77.50,303.47 L77.70,302.70 L77.90,301.92 L78.10,301.14 L78.31,300.36 L78.52,299.57 L78.73,298.78 L78.95,297.99 L79.16,297.19 L79.38,296.38 L79.61,295.58 L79.83,294.77 L80.06,293.95 L80.29,293.13 L80.53,292.31 L80.77,291.48 L81.01,290.65 L81.25,289.81 L81.50,288.97 L81.75,288.12 L82.00,287.27 L82.25,286.42 L82.51,285.56 L82.77,284.69 L83.04,283.82 L83.31,282.94 L83.58,282.05 L83.85,281.14 L84.13,280.22 L84.41,279.29 L84.69,278.34 L84.97,277.39 L85.26,276.43 L85.55,275.46 L85.85,274.48 L86.15,273.50 L86.45,272.51 L86.75,271.51 L87.06,270.51 L87.37,269.51 L87.69,268.50 L88.00,267.49 L88.32,266.48 L88.65,265.47 L88.97,264.46 L89.30,263.45 L89.64,262.45 L89.97,261.44 L90.31,260.44 L90.66,259.45 L91.00,258.46 L91.35,257.47 L91.71,256.50 L92.06,255.53 L92.42,254.57 L92.79,253.62 L93.15,252.67 L93.52,251.74 L93.90,250.83 L94.27,249.92 L94.65,249.03 L95.04,248.15 L95.42,247.28 L95.81,246.42 L96.21,245.56 L96.60,244.71 L97.00,243.86 L97.41,243.02 L97.82,242.17 L98.23,241.34 L98.64,240.50 L99.06,239.67 L99.48,238.84 L99.91,238.01 L100.34,237.19 L100.77,236.37 L101.20,235.55 L101.64,234.73 L102.09,233.92 L102.53,233.10 L102.98,232.29 L103.44,231.47 L103.89,230.66 L104.35,229.85 L104.82,229.04 L105.29,228.23 L105.76,227.42 L106.23,226.61 L106.71,225.80 L107.20,224.99 L107.68,224.18 L108.17,223.37 L108.67,222.56 L109.17,221.74 L109.67,220.93 L110.17,220.11 L110.68,219.29 L111.19,218.47 L111.71,217.65 L112.23,216.82 L112.75,216.00 L113.28,215.17 L113.81,214.34 L114.35,213.50 L114.89,212.67 L115.43,211.83 L115.98,210.99 L116.53,210.15 L117.08,209.31 L117.64,208.47 L118.20,207.62 L118.77,206.78 L119.34,205.94 L119.91,205.09 L120.49,204.25 L121.07,203.40 L121.66,202.55 L122.25,201.71 L122.84,200.86 L123.44,200.02 L124.04,199.17 L124.65,198.33 L125.26,197.48 L125.87,196.64 L126.49,195.80 L127.11,194.95 L127.74,194.11 L128.37,193.27 L129.00,192.43 L129.64,191.59 L130.28,190.76 L130.92,189.92 L131.57,189.09 L132.23,188.25 L132.89,187.42 L133.55,186.59 L134.21,185.77 L134.88,184.94 L135.56,184.12 L136.24,183.30 L136.92,182.48 L137.61,181.66 L138.30,180.85 L139.59,179.35 L140.88,177.86 L142.17,176.39 L143.46,174.93 L144.75,173.49 L146.04,172.07 L147.33,170.67 L148.62,169.28 L149.91,167.91 L151.20,166.55 L152.50,165.21 L153.79,163.89 L155.08,162.58 L156.37,161.29 L157.66,160.02 L158.95,158.76 L160.24,157.52 L161.53,156.30 L162.82,155.09 L164.11,153.89 L165.40,152.72 L166.69,151.56 L167.99,150.41 L169.28,149.28 L170.57,148.16 L171.86,147.06 L173.15,145.98 L174.44,144.91 L175.73,143.86 L177.02,142.82 L178.31,141.79 L179.60,140.78 L180.89,139.79 L182.18,138.80 L183.47,137.84 L184.77,136.88 L186.06,135.94 L187.35,135.02 L188.64,134.10 L189.93,133.20 L191.22,132.30 L192.51,131.41 L193.80,130.53 L195.09,129.66 L196.38,128.79 L197.67,127.94 L198.96,127.10 L200.26,126.26 L201.55,125.43 L202.84,124.61 L204.13,123.80 L205.42,123.00 L206.71,122.20 L208.00,121.41 L209.29,120.64 L210.58,119.87 L211.87,119.10 L213.16,118.35 L214.45,117.60 L215.75,116.87 L217.04,116.14 L218.33,115.42 L219.62,114.70 L220.91,114.00 L222.20,113.30 L223.49,112.61 L224.78,111.92 L226.07,111.25 L227.36,110.58 L228.65,109.92 L229.94,109.27 L231.24,108.62 L232.53,107.98 L233.82,107.35 L235.11,106.72 L236.40,106.10 L237.69,105.48 L238.98,104.87 L240.27,104.27 L241.56,103.68 L242.85,103.09 L244.14,102.50 L245.43,101.92 L246.72,101.35 L248.02,100.78 L249.31,100.22 L250.60,99.67 L251.89,99.12 L253.18,98.57 L254.47,98.03 L255.76,97.50 L257.05,96.97 L258.34,96.44 L259.63,95.92 L260.92,95.41 L262.21,94.90 L263.51,94.39 L264.80,93.89 L266.09,93.39 L267.38,92.90 L268.67,92.42 L269.96,91.94 L271.25,91.46 L272.54,90.98 L273.83,90.52 L275.12,90.05 L276.41,89.59 L277.70,89.14 L279.00,88.69 L280.29,88.24 L281.58,87.81 L282.87,87.39 L284.16,86.97 L285.45,86.56 L286.74,86.15 L288.03,85.74 L289.32,85.34 L290.61,84.95 L291.90,84.55 L293.19,84.17 L294.48,83.78 L295.78,83.40 L297.07,83.02 L298.36,82.65 L299.65,82.28 L300.94,81.92 L302.23,81.55 L303.52,81.19 L304.81,80.84 L306.10,80.49 L307.39,80.14 L308.68,79.80 L309.97,79.46 L311.27,79.12 L312.56,78.79 L313.85,78.46 L315.14,78.14 L316.43,77.82 L317.72,77.50 L319.01,77.19 L320.30,76.88 L321.59,76.57 L322.88,76.27 L324.17,75.97 L325.46,75.67 L326.76,75.38 L328.05,75.09 L329.34,74.80 L330.63,74.52 L331.92,74.24 L333.21,73.97 L334.50,73.70 L335.79,73.43 L337.08,73.17 L338.37,72.91 L339.66,72.65 L340.95,72.40 L342.25,72.15 L343.54,71.90 L344.83,71.65 L346.12,71.41 L347.41,71.17 L348.70,70.93 L349.99,70.70 L351.28,70.46 L352.57,70.23 L353.86,70.00 L355.15,69.78 L356.44,69.55 L357.73,69.33 L359.03,69.11 L360.32,68.89 L361.61,68.68 L362.90,68.46 L364.19,68.25 L365.48,68.05 L366.77,67.84 L368.06,67.65 L369.35,67.45 L370.64,67.25 L371.93,67.06 L373.22,66.87 L374.52,66.69 L375.81,66.50 L377.10,66.32 L378.39,66.14 L379.68,65.96 L380.97,65.78 L382.26,65.60 L383.55,65.42 L384.84,65.25 L386.13,65.07 L387.42,64.90 L388.71,64.73 L390.01,64.55 L391.30,64.38 L392.59,64.21 L393.88,64.04 L395.17,63.87 L396.46,63.70 L397.75,63.54 L399.04,63.38 L400.33,63.22 L401.62,63.07 L402.91,62.92 L404.20,62.78 L405.49,62.64 L406.79,62.51 L408.08,62.38 L409.37,62.26 L410.66,62.14 L411.95,62.02 L413.24,61.91 L414.53,61.81 L415.82,61.70 L417.11,61.60 L418.40,61.51 L419.69,61.42 L420.98,61.34 L422.28,61.26 L423.57,61.18 L424.86,61.11 L426.15,61.05 L427.44,60.98 L428.73,60.92 L430.02,60.86 L431.31,60.81 L432.60,60.76 L433.89,60.71 L435.18,60.67 L436.47,60.63 L437.77,60.59 L439.06,60.55 L440.35,60.52 L441.64,60.49 L442.93,60.47 L444.22,60.44 L445.51,60.42 L446.80,60.40 L448.09,60.38 L449.38,60.36 L450.67,60.35 L451.96,60.34 L453.26,60.33 L454.55,60.32 L455.84,60.31 L457.13,60.31 L458.42,60.30 L459.71,60.30 L461.00,60.30" stroke="#9467bd"/>
<path d="M69.00,352.30 L69.00,352.29 L69.00,352.27 L69.00,352.24 L69.00,352.19 L69.00,352.13 L69.01,352.06 L69.01,351.98 L69.01,351.89 L69.02,351.79 L69.02,351.67 L69.03,351.55 L69.03,351.41 L69.04,351.27 L69.05,351.12 L69.06,350.95 L69.07,350.78 L69.08,350.60 L69.10,350.41 L69.11,350.21 L69.13,350.01 L69.14,349.79 L69.16,349.57 L69.18,349.34 L69.20,349.10 L69.22,348.85 L69.24,348.59 L69.27,348.33 L69.29,348.06 L69.32,347.78 L69.35,347.50 L69.38,347.21 L69.41,346.91 L69.44,346.60 L69.47,346.29 L69.51,345.97 L69.55,345.64 L69.58,345.31 L69.62,344.97 L69.67,344.62 L69.71,344.27 L69.75,343.91 L69.80,343.55 L69.85,343.18 L69.90,342.80 L69.95,342.42 L70.01,342.03 L70.06,341.64 L70.12,341.24 L70.18,340.83 L70.24,340.42 L70.30,340.00 L70.37,339.58 L70.43,339.15 L70.50,338.72 L70.57,338.28 L70.65,337.84 L70.72,337.39 L70.80,336.94 L70.87,336.43 L70.96,335.89 L71.04,335.33 L71.12,334.77 L71.21,334.20 L71.30,333.62 L71.39,333.04 L71.48,332.44 L71.58,331.84 L71.67,331.23 L71.77,330.61 L71.87,329.99 L71.98,329.37 L72.08,328.73 L72.19,328.10 L72.30,327.45 L72.42,326.80 L72.53,326.15 L72.65,325.49 L72.77,324.83 L72.89,324.16 L73.01,323.49 L73.14,322.81 L73.27,322.13 L73.40,321.45 L73.53,320.76 L73.67,320.06 L73.81,319.36 L73.95,318.66 L74.09,317.95 L74.24,317.24 L74.39,316.52 L74.54,315.80 L74.69,315.08 L74.85,314.36 L75.01,313.63 L75.17,312.90 L75.33,312.16 L75.50,311.42 L75.67,310.68 L75.84,309.94 L76.01,309.19 L76.19,308.45 L76.37,307.69 L76.55,306.94 L76.73,306.18 L76.92,305.41 L77.11,304.65 L77.30,303.88 L77.50,303.11 L77.70,302.33 L77.90,301.55 L78.10,300.77 L78.31,299.98 L78.52,299.19 L78.73,298.39 L78.95,297.59 L79.16,296.79 L79.38,295.99 L79.61,295.18 L79.83,294.36 L80.06,293.54 L80.29,292.72 L80.53,291.89 L80.77,291.06 L81.01,290.22 L81.25,289.38 L81.50,288.54 L81.75,287.69 L82.00,286.84 L82.25,285.98 L82.51,285.11 L82.77,284.25 L83.04,283.37 L83.31,282.49 L83.58,281.59 L83.85,280.68 L84.13,279.76 L84.41,278.82 L84.69,277.88 L84.97,276.92 L85.26,275.96 L85.55,274.98 L85.85,274.00 L86.15,273.01 L86.45,272.02 L86.75,271.02 L87.06,270.02 L87.37,269.01 L87.69,268.00 L88.00,266.99 L88.32,265.98 L88.65,264.96 L88.97,263.95 L89.30,262.94 L89.64,261.93 L89.97,260.93 L90.31,259.92 L90.66,258.93 L91.00,257.93 L91.35,256.95 L91.71,255.97 L92.06,255.00 L92.42,254.03 L92.79,253.08 L93.15,252.14 L93.52,251.21 L93.90,250.29 L94.27,249.38 L94.65,248.48 L95.04,247.60 L95.42,246.73 L95.81,245.87 L96.21,245.01 L96.60,244.16 L97.00,243.31 L97.41,242.46 L97.82,241.62 L98.23,240.78 L98.64,239.94 L99.06,239.11 L99.48,238.28 L99.91,237.45 L100.34,236.63 L100.77,235.81 L101.20,234.99 L101.64,234.17 L102.09,233.35 L102.53,232.53 L102.98,231.72 L103.44,230.91 L103.89,230.09 L104.35,229.28 L104.82,228.47 L105.29,227.66 L105.76,226.85 L106.23,226.04 L106.71,225.23 L107.20,224.42 L107.68,223.60 L108.17,222.79 L108.67,221.98 L109.17,221.16 L109.67,220.35 L110.17,219.53 L110.68,218.71 L111.19,217.89 L111.71,217.07 L112.23,216.24 L112.75,215.42 L113.28,214.59 L113.81,213.75 L114.35,212.92 L114.89,212.08 L115.43,211.25 L115.98,210.41 L116.53,209.57 L117.08,208.73 L117.64,207.88 L118.20,207.04 L118.77,206.20 L119.34,205.35 L119.91,204.51 L120.49,203.66 L121.07,202.82 L121.66,201.97 L122.25,201.13 L122.84,200.28 L123.44,199.44 L124.04,198.59 L124.65,197.75 L125.26,196.90 L125.87,196.06 L126.49,195.22 L127.11,194.37 L127.74,193.53 L128.37,192.69 L129.00,191.85 L129.64,191.02 L130.28,190.18 L130.92,189.34 L131.57,188.51 L132.23,187.68 L132.89,186.85 L133.55,186.02 L134.21,185.19 L134.88,184.37 L135.56,183.55 L136.24,182.73 L136.92,181.91 L137.61,181.09 L138.30,180.28 L139.59,178.78 L140.88,177.29 L142.17,175.82 L143.46,174.37 L144.75,172.94 L146.04,171.52 L147.33,170.11 L148.62,168.73 L149.91,167.36 L151.20,166.00 L152.50,164.67 L153.79,163.35 L155.08,162.04 L156.37,160.76 L157.66,159.48 L158.95,158.23 L160.24,156.99 L161.53,155.77 L162.82,154.56 L164.11,153.37 L165.40,152.20 L166.69,151.04 L167.99,149.90 L169.28,148.77 L170.57,147.66 L171.86,146.56 L173.15,145.48 L174.44,144.41 L175.73,143.36 L177.02,142.32 L178.31,141.30 L179.60,140.29 L180.89,139.30 L182.18,138.32 L183.47,137.36 L184.77,136.41 L186.06,135.47 L187.35,134.55 L188.64,133.64 L189.93,132.73 L191.22,131.84 L192.51,130.95 L193.80,130.08 L195.09,129.21 L196.38,128.35 L197.67,127.50 L198.96,126.65 L200.26,125.82 L201.55,125.00 L202.84,124.18 L204.13,123.37 L205.42,122.57 L206.71,121.78 L208.00,121.00 L209.29,120.22 L210.58,119.45 L211.87,118.69 L213.16,117.94 L214.45,117.20 L215.75,116.47 L217.04,115.74 L218.33,115.02 L219.62,114.31 L220.91,113.61 L222.20,112.91 L223.49,112.23 L224.78,111.55 L226.07,110.87 L227.36,110.21 L228.65,109.55 L229.94,108.90 L231.24,108.26 L232.53,107.62 L233.82,106.99 L235.11,106.37 L236.40,105.75 L237.69,105.14 L238.98,104.53 L240.27,103.93 L241.56,103.34 L242.85,102.75 L244.14,102.17 L245.43,101.60 L246.72,101.03 L248.02,100.46 L249.31,99.90 L250.60,99.35 L251.89,98.80 L253.18,98.26 L254.47,97.72 L255.76,97.19 L257.05,96.66 L258.34,96.14 L259.63,95.63 L260.92,95.11 L262.21,94.61 L263.51,94.11 L264.80,93.61 L266.09,93.12 L267.38,92.63 L268.67,92.14 L269.96,91.66 L271.25,91.19 L272.54,90.72 L273.83,90.25 L275.12,89.79 L276.41,89.34 L277.70,88.88 L279.00,88.44 L280.29,87.99 L281.58,87.56 L282.87,87.14 L284.16,86.73 L285.45,86.32 L286.74,85.91 L288.03,85.51 L289.32,85.11 L290.61,84.72 L291.90,84.33 L293.19,83.95 L294.48,83.56 L295.78,83.19 L297.07,82.81 L298.36,82.44 L299.65,82.07 L300.94,81.71 L302.23,81.35 L303.52,81.00 L304.81,80.64 L306.10,80.30 L307.39,79.95 L308.68,79.61 L309.97,79.27 L311.27,78.94 L312.56,78.61 L313.85,78.29 L315.14,77.96 L316.43,77.65 L317.72,77.33 L319.01,77.02 L320.30,76.71 L321.59,76.41 L322.88,76.11 L324.17,75.81 L325.46,75.51 L326.76,75.22 L328.05,74.94 L329.34,74.65 L330.63,74.37 L331.92,74.10 L333.21,73.83 L334.50,73.56 L335.79,73.29 L337.08,73.03 L338.37,72.78 L339.66,72.52 L340.95,72.27 L342.25,72.02 L343.54,71.77 L344.83,71.53 L346.12,71.29 L347.41,71.05 L348.70,70.82 L349.99,70.58 L351.28,70.35 L352.57,70.12 L353.86,69.90 L355.15,69.67 L356.44,69.45 L357.73,69.23 L359.03,69.01 L360.32,68.79 L361.61,68.58 L362.90,68.37 L364.19,68.16 L365.48,67.96 L366.77,67.76 L368.06,67.56 L369.35,67.36 L370.64,67.17 L371.93,66.98 L373.22,66.80 L374.52,66.61 L375.81,66.43 L377.10,66.25 L378.39,66.07 L379.68,65.89 L380.97,65.71 L382.26,65.54 L383.55,65.36 L384.84,65.19 L386.13,65.01 L387.42,64.84 L388.71,64.67 L390.01,64.50 L391.30,64.33 L392.59,64.16 L393.88,63.99 L395.17,63.82 L396.46,63.66 L397.75,63.50 L399.04,63.34 L400.33,63.18 L401.62,63.03 L402.91,62.89 L404.20,62.75 L405.49,62.61 L406.79,62.48 L408.08,62.35 L409.37,62.23 L410.66,62.11 L411.95,62.00 L413.24,61.89 L414.53,61.78 L415.82,61.68 L417.11,61.59 L418.40,61.49 L419.69,61.41 L420.98,61.32 L422.28,61.24 L423.57,61.17 L424.86,61.10 L426.15,61.03 L427.44,60.97 L428.73,60.91 L430.02,60.85 L431.31,60.80 L432.60,60.75 L433.89,60.71 L435.18,60.66 L436.47,60.62 L437.77,60.58 L439.06,60.55 L440.35,60.52 L441.64,60.49 L442.93,60.46 L444.22,60.44 L445.51,60.42 L446.80,60.40 L448.09,60.38 L449.38,60.36 L450.67,60.35 L451.96,60.34 L453.26,60.33 L454.55,60.32 L455.84,60.31 L457.13,60.31 L458.42,60.30 L459.71,60.30 L461.00,60.30" stroke="#8c564b"/>
<path d="M69.00,352.30 L69.00,352.27 L69.00,352.20 L69.00,352.09 L69.00,351.94 L69.00,351.77 L69.01,351.57 L69.01,351.35 L69.01,351.10 L69.02,350.83 L69.02,350.54 L69.03,350.23 L69.03,349.91 L69.04,349.56 L69.05,349.20 L69.06,348.82 L69.07,348.43 L69.08,348.02 L69.10,347.59 L69.11,347.16 L69.13,346.71 L69.14,346.24 L69.16,345.77 L69.18,345.28 L69.20,344.78 L69.22,344.27 L69.24,343.75 L69.27,343.22 L69.29,342.68 L69.32,342.12 L69.35,341.56 L69.38,340.99 L69.41,340.41 L69.44,339.82 L69.47,339.23 L69.51,338.62 L69.55,338.01 L69.58,337.38 L69.62,336.75 L69.67,336.12 L69.71,335.47 L69.75,334.82 L69.80,334.16 L69.85,333.50 L69.90,332.83 L69.95,332.15 L70.01,331.46 L70.06,330.77 L70.12,330.08 L70.18,329.37 L70.24,328.67 L70.30,327.95 L70.37,327.24 L70.43,326.51 L70.50,325.78 L70.57,325.05 L70.65,324.31 L70.72,323.57 L70.80,322.82 L70.87,322.07 L70.96,321.31 L71.04,320.55 L71.12,319.79 L71.21,319.02 L71.30,318.25 L71.39,317.47 L71.48,316.69 L71.58,315.91 L71.67,315.12 L71.77,314.33 L71.87,313.55 L71.98,312.76 L72.08,311.97 L72.19,311.18 L72.30,310.40 L72.42,309.61 L72.53,308.82 L72.65,308.04 L72.77,307.25 L72.89,306.46 L73.01,305.68 L73.14,304.89 L73.27,304.11 L73.40,303.32 L73.53,302.54 L73.67,301.75 L73.81,300.97 L73.95,300.19 L74.09,299.40 L74.24,298.62 L74.39,297.84 L74.54,297.06 L74.69,296.28 L74.85,295.50 L75.01,294.72 L75.17,293.94 L75.33,293.16 L75.50,292.38 L75.67,291.60 L75.84,290.83 L76.01,290.05 L76.19,289.27 L76.37,288.50 L76.55,287.72 L76.73,286.95 L76.92,286.18 L77.11,285.40 L77.30,284.63 L77.50,283.86 L77.70,283.09 L77.90,282.32 L78.10,281.55 L78.31,280.78 L78.52,280.01 L78.73,279.24 L78.95,278.48 L79.16,277.71 L79.38,276.94 L79.61,276.18 L79.83,275.41 L80.06,274.65 L80.29,273.88 L80.53,273.12 L80.77,272.36 L81.01,271.59 L81.25,270.83 L81.50,270.07 L81.75,269.31 L82.00,268.55 L82.25,267.79 L82.51,267.03 L82.77,266.27 L83.04,265.52 L83.31,264.76 L83.58,264.00 L83.85,263.25 L84.13,262.49 L84.41,261.73 L84.69,260.98 L84.97,260.22 L85.26,259.47 L85.55,258.72 L85.85,257.96 L86.15,257.21 L86.45,256.46 L86.75,255.71 L87.06,254.96 L87.37,254.21 L87.69,253.46 L88.00,252.71 L88.32,251.96 L88.65,251.21 L88.97,250.46 L89.30,249.71 L89.64,248.96 L89.97,248.22 L90.31,247.47 L90.66,246.72 L91.00,245.98 L91.35,245.23 L91.71,244.49 L92.06,243.74 L92.42,243.00 L92.79,242.25 L93.15,241.51 L93.52,240.77 L93.90,240.03 L94.27,239.28 L94.65,238.54 L95.04,237.80 L95.42,237.06 L95.81,236.32 L96.21,235.58 L96.60,234.84 L97.00,234.10 L97.41,233.36 L97.82,232.62 L98.23,231.88 L98.64,231.14 L99.06,230.40 L99.48,229.66 L99.91,228.93 L100.34,228.19 L100.77,227.45 L101.20,226.72 L101.64,225.98 L102.09,225.25 L102.53,224.51 L102.98,223.77 L103.44,223.04 L103.89,222.31 L104.35,221.57 L104.82,220.84 L105.29,220.10 L105.76,219.37 L106.23,218.64 L106.71,217.91 L107.20,217.17 L107.68,216.44 L108.17,215.71 L108.67,214.98 L109.17,214.25 L109.67,213.52 L110.17,212.79 L110.68,212.06 L111.19,211.33 L111.71,210.60 L112.23,209.87 L112.75,209.14 L113.28,208.42 L113.81,207.69 L114.35,206.96 L114.89,206.23 L115.43,205.51 L115.98,204.78 L116.53,204.06 L117.08,203.33 L117.64,202.60 L118.20,201.88 L118.77,201.16 L119.34,200.43 L119.91,199.71 L120.49,198.98 L121.07,198.26 L121.66,197.54 L122.25,196.82 L122.84,196.09 L123.44,195.37 L124.04,194.65 L124.65,193.93 L125.26,193.21 L125.87,192.49 L126.49,191.77 L127.11,191.05 L127.74,190.33 L128.37,189.62 L129.00,188.90 L129.64,188.18 L130.28,187.46 L130.92,186.75 L131.57,186.03 L132.23,185.32 L132.89,184.60 L133.55,183.89 L134.21,183.17 L134.88,182.46 L135.56,181.74 L136.24,181.03 L136.92,180.32 L137.61,179.61 L138.30,178.90 L139.59,177.58 L140.88,176.28 L142.17,175.00 L143.46,173.73 L144.75,172.47 L146.04,171.23 L147.33,170.01 L148.62,168.80 L149.91,167.60 L151.20,166.41 L152.50,165.24 L153.79,164.08 L155.08,162.93 L156.37,161.80 L157.66,160.68 L158.95,159.57 L160.24,158.47 L161.53,157.38 L162.82,156.30 L164.11,155.23 L165.40,154.18 L166.69,153.13 L167.99,152.10 L169.28,151.07 L170.57,150.05 L171.86,149.05 L173.15,148.05 L174.44,147.06 L175.73,146.09 L177.02,145.12 L178.31,144.16 L179.60,143.21 L180.89,142.27 L182.18,141.33 L183.47,140.41 L184.77,139.49 L186.06,138.58 L187.35,137.68 L188.64,136.79 L189.93,135.90 L191.22,135.03 L192.51,134.16 L193.80,133.30 L195.09,132.44 L196.38,131.59 L197.67,130.76 L198.96,129.92 L200.26,129.10 L201.55,128.28 L202.84,127.47 L204.13,126.67 L205.42,125.87 L206.71,125.08 L208.00,124.30 L209.29,123.52 L210.58,122.75 L211.87,121.98 L213.16,121.23 L214.45,120.48 L215.75,119.73 L217.04,118.99 L218.33,118.26 L219.62,117.54 L220.91,116.82 L222.20,116.10 L223.49,115.40 L224.78,114.69 L226.07,114.00 L227.36,113.31 L228.65,112.62 L229.94,111.95 L231.24,111.27 L232.53,110.61 L233.82,109.94 L235.11,109.29 L236.40,108.64 L237.69,107.99 L238.98,107.35 L240.27,106.72 L241.56,106.09 L242.85,105.47 L244.14,104.85 L245.43,104.24 L246.72,103.63 L248.02,103.03 L249.31,102.43 L250.60,101.84 L251.89,101.26 L253.18,100.68 L254.47,100.10 L255.76,99.53 L257.05,98.96 L258.34,98.40 L259.63,97.84 L260.92,97.29 L262.21,96.75 L263.51,96.21 L264.80,95.67 L266.09,95.14 L267.38,94.61 L268.67,94.09 L269.96,93.57 L271.25,93.06 L272.54,92.55 L273.83,92.05 L275.12,91.55 L276.41,91.05 L277.70,90.56 L279.00,90.08 L280.29,89.60 L281.58,89.14 L282.87,88.68 L284.16,88.23 L285.45,87.79 L286.74,87.35 L288.03,86.92 L289.32,86.49 L290.61,86.06 L291.90,85.64 L293.19,85.22 L294.48,84.81 L295.78,84.40 L297.07,84.00 L298.36,83.60 L299.65,83.21 L300.94,82.82 L302.23,82.43 L303.52,82.05 L304.81,81.67 L306.10,81.30 L307.39,80.93 L308.68,80.56 L309.97,80.20 L311.27,79.84 L312.56,79.49 L313.85,79.14 L315.14,78.79 L316.43,78.45 L317.72,78.11 L319.01,77.77 L320.30,77.44 L321.59,77.11 L322.88,76.79 L324.17,76.47 L325.46,76.15 L326.76,75.84 L328.05,75.53 L329.34,75.22 L330.63,74.92 L331.92,74.63 L333.21,74.34 L334.50,74.05 L335.79,73.76 L337.08,73.48 L338.37,73.21 L339.66,72.93 L340.95,72.66 L342.25,72.40 L343.54,72.14 L344.83,71.88 L346.12,71.62 L347.41,71.37 L348.70,71.12 L349.99,70.87 L351.28,70.62 L352.57,70.38 L353.86,70.14 L355.15,69.90 L356.44,69.67 L357.73,69.44 L359.03,69.21 L360.32,68.98 L361.61,68.76 L362.90,68.54 L364.19,68.32 L365.48,68.11 L366.77,67.90 L368.06,67.70 L369.35,67.49 L370.64,67.30 L371.93,67.10 L373.22,66.91 L374.52,66.72 L375.81,66.53 L377.10,66.34 L378.39,66.15 L379.68,65.97 L380.97,65.79 L382.26,65.61 L383.55,65.43 L384.84,65.25 L386.13,65.07 L387.42,64.90 L388.71,64.72 L390.01,64.55 L391.30,64.37 L392.59,64.20 L393.88,64.03 L395.17,63.86 L396.46,63.69 L397.75,63.53 L399.04,63.37 L400.33,63.21 L401.62,63.06 L402.91,62.91 L404.20,62.76 L405.49,62.63 L406.79,62.49 L408.08,62.37 L409.37,62.24 L410.66,62.12 L411.95,62.01 L413.24,61.90 L414.53,61.79 L415.82,61.69 L417.11,61.59 L418.40,61.50 L419.69,61.41 L420.98,61.32 L422.28,61.24 L423.57,61.17 L424.86,61.10 L426.15,61.03 L427.44,60.97 L428.73,60.91 L430.02,60.85 L431.31,60.80 L432.60,60.75 L433.89,60.70 L435.18,60.66 L436.47,60.62 L437.77,60.58 L439.06,60.55 L440.35,60.52 L441.64,60.49 L442.93,60.46 L444.22,60.44 L445.51,60.41 L446.80,60.39 L448.09,60.38 L449.38,60.36 L450.67,60.35 L451.96,60.34 L453.26,60.33 L454.55,60.32 L455.84,60.31 L457.13,60.31 L458.42,60.30 L459.71,60.30 L461.00,60.30" stroke="#e377c2"/>
<path d="M69.00,352.30 L69.00,352.27 L69.00,352.20 L69.00,352.09 L69.00,351.95 L69.00,351.78 L69.01,351.58 L69.01,351.36 L69.01,351.11 L69.02,350.85 L69.02,350.56 L69.03,350.26 L69.03,349.93 L69.04,349.59 L69.05,349.23 L69.06,348.86 L69.07,348.47 L69.08,348.06 L69.10,347.64 L69.11,347.21 L69.13,346.76 L69.14,346.30 L69.16,345.83 L69.18,345.35 L69.20,344.85 L69.22,344.35 L69.24,343.83 L69.27,343.30 L69.29,342.76 L69.32,342.21 L69.35,341.66 L69.38,341.09 L69.41,340.51 L69.44,339.93 L69.47,339.34 L69.51,338.73 L69.55,338.12 L69.58,337.51 L69.62,336.88 L69.67,336.25 L69.71,335.61 L69.75,334.96 L69.80,334.30 L69.85,333.64 L69.90,332.98 L69.95,332.30 L70.01,331.62 L70.06,330.94 L70.12,330.24 L70.18,329.55 L70.24,328.84 L70.30,328.13 L70.37,327.42 L70.43,326.70 L70.50,325.97 L70.57,325.24 L70.65,324.51 L70.72,323.77 L70.80,323.03 L70.87,322.28 L70.96,321.53 L71.04,320.77 L71.12,320.01 L71.21,319.24 L71.30,318.47 L71.39,317.70 L71.48,316.93 L71.58,316.15 L71.67,315.36 L71.77,314.58 L71.87,313.80 L71.98,313.01 L72.08,312.23 L72.19,311.44 L72.30,310.66 L72.42,309.88 L72.53,309.09 L72.65,308.31 L72.77,307.53 L72.89,306.74 L73.01,305.96 L73.14,305.18 L73.27,304.40 L73.40,303.61 L73.53,302.83 L73.67,302.05 L73.81,301.27 L73.95,300.49 L74.09,299.71 L74.24,298.93 L74.39,298.15 L74.54,297.37 L74.69,296.59 L74.85,295.82 L75.01,295.04 L75.17,294.26 L75.33,293.49 L75.50,292.71 L75.67,291.94 L75.84,291.16 L76.01,290.39 L76.19,289.61 L76.37,288.84 L76.55,288.07 L76.73,287.30 L76.92,286.53 L77.11,285.76 L77.30,284.99 L77.50,284.22 L77.70,283.45 L77.90,282.68 L78.10,281.91 L78.31,281.15 L78.52,280.38 L78.73,279.61 L78.95,278.85 L79.16,278.08 L79.38,277.32 L79.61,276.56 L79.83,275.79 L80.06,275.03 L80.29,274.27 L80.53,273.51 L80.77,272.75 L81.01,271.98 L81.25,271.22 L81.50,270.47 L81.75,269.71 L82.00,268.95 L82.25,268.19 L82.51,267.43 L82.77,266.68 L83.04,265.92 L83.31,265.16 L83.58,264.41 L83.85,263.65 L84.13,262.90 L84.41,262.15 L84.69,261.39 L84.97,260.64 L85.26,259.89 L85.55,259.14 L85.85,258.38 L86.15,257.63 L86.45,256.88 L86.75,256.13 L87.06,255.38 L87.37,254.63 L87.69,253.88 L88.00,253.13 L88.32,252.39 L88.65,251.64 L88.97,250.89 L89.30,250.15 L89.64,249.40 L89.97,248.65 L90.31,247.91 L90.66,247.16 L91.00,246.42 L91.35,245.67 L91.71,244.93 L92.06,244.18 L92.42,243.44 L92.79,242.70 L93.15,241.96 L93.52,241.21 L93.90,240.47 L94.27,239.73 L94.65,238.99 L95.04,238.25 L95.42,237.51 L95.81,236.77 L96.21,236.03 L96.60,235.29 L97.00,234.55 L97.41,233.81 L97.82,233.07 L98.23,232.33 L98.64,231.60 L99.06,230.86 L99.48,230.12 L99.91,229.38 L100.34,228.65 L100.77,227.91 L101.20,227.18 L101.64,226.44 L102.09,225.70 L102.53,224.97 L102.98,224.24 L103.44,223.50 L103.89,222.77 L104.35,222.03 L104.82,221.30 L105.29,220.57 L105.76,219.83 L106.23,219.10 L106.71,218.37 L107.20,217.64 L107.68,216.91 L108.17,216.18 L108.67,215.44 L109.17,214.71 L109.67,213.98 L110.17,213.25 L110.68,212.52 L111.19,211.80 L111.71,211.07 L112.23,210.34 L112.75,209.61 L113.28,208.88 L113.81,208.15 L114.35,207.43 L114.89,206.70 L115.43,205.97 L115.98,205.25 L116.53,204.52 L117.08,203.80 L117.64,203.07 L118.20,202.35 L118.77,201.62 L119.34,200.90 L119.91,200.17 L120.49,199.45 L121.07,198.73 L121.66,198.00 L122.25,197.28 L122.84,196.56 L123.44,195.84 L124.04,195.12 L124.65,194.39 L125.26,193.67 L125.87,192.95 L126.49,192.23 L127.11,191.51 L127.74,190.80 L128.37,190.08 L129.00,189.36 L129.64,188.64 L130.28,187.92 L130.92,187.21 L131.57,186.49 L132.23,185.77 L132.89,185.06 L133.55,184.34 L134.21,183.63 L134.88,182.91 L135.56,182.20 L136.24,181.49 L136.92,180.77 L137.61,180.06 L138.30,179.35 L139.59,178.03 L140.88,176.73 L142.17,175.44 L143.46,174.17 L144.75,172.92 L146.04,171.68 L147.33,170.45 L148.62,169.24 L149.91,168.04 L151.20,166.85 L152.50,165.68 L153.79,164.52 L155.08,163.37 L156.37,162.23 L157.66,161.11 L158.95,159.99 L160.24,158.89 L161.53,157.80 L162.82,156.72 L164.11,155.65 L165.40,154.60 L166.69,153.55 L167.99,152.51 L169.28,151.48 L170.57,150.47 L171.86,149.46 L173.15,148.46 L174.44,147.47 L175.73,146.49 L177.02,145.52 L178.31,144.56 L179.60,143.60 L180.89,142.66 L182.18,141.72 L183.47,140.80 L184.77,139.88 L186.06,138.97 L187.35,138.06 L188.64,137.17 L189.93,136.28 L191.22,135.40 L192.51,134.53 L193.80,133.67 L195.09,132.81 L196.38,131.96 L197.67,131.12 L198.96,130.29 L200.26,129.46 L201.55,128.64 L202.84,127.83 L204.13,127.02 L205.42,126.22 L206.71,125.43 L208.00,124.64 L209.29,123.86 L210.58,123.09 L211.87,122.32 L213.16,121.56 L214.45,120.81 L215.75,120.06 L217.04,119.32 L218.33,118.59 L219.62,117.86 L220.91,117.14 L222.20,116.42 L223.49,115.71 L224.78,115.01 L226.07,114.31 L227.36,113.62 L228.65,112.93 L229.94,112.25 L231.24,111.57 L232.53,110.90 L233.82,110.24 L235.11,109.58 L236.40,108.93 L237.69,108.28 L238.98,107.64 L240.27,107.00 L241.56,106.37 L242.85,105.75 L244.14,105.13 L245.43,104.51 L246.72,103.90 L248.02,103.30 L249.31,102.70 L250.60,102.11 L251.89,101.52 L253.18,100.93 L254.47,100.35 L255.76,99.78 L257.05,99.21 L258.34,98.65 L259.63,98.09 L260.92,97.54 L262.21,96.99 L263.51,96.44 L264.80,95.90 L266.09,95.37 L267.38,94.84 L268.67,94.32 L269.96,93.80 L271.25,93.28 L272.54,92.77 L273.83,92.26 L275.12,91.76 L276.41,91.27 L277.70,90.77 L279.00,90.29 L280.29,89.80 L281.58,89.34 L282.87,88.88 L284.16,88.43 L285.45,87.99 L286.74,87.54 L288.03,87.11 L289.32,86.68 L290.61,86.25 L291.90,85.82 L293.19,85.41 L294.48,84.99 L295.78,84.58 L297.07,84.18 L298.36,83.78 L299.65,83.38 L300.94,82.99 L302.23,82.60 L303.52,82.21 L304.81,81.83 L306.10,81.46 L307.39,81.09 L308.68,80.72 L309.97,80.35 L311.27,79.99 L312.56,79.64 L313.85,79.29 L315.14,78.94 L316.43,78.59 L317.72,78.25 L319.01,77.91 L320.30,77.58 L321.59,77.25 L322.88,76.92 L324.17,76.60 L325.46,76.28 L326.76,75.97 L328.05,75.65 L329.34,75.35 L330.63,75.05 L331.92,74.75 L333.21,74.45 L334.50,74.16 L335.79,73.88 L337.08,73.60 L338.37,73.32 L339.66,73.04 L340.95,72.77 L342.25,72.50 L343.54,72.24 L344.83,71.98 L346.12,71.72 L347.41,71.46 L348.70,71.21 L349.99,70.96 L351.28,70.71 L352.57,70.47 L353.86,70.23 L355.15,69.99 L356.44,69.75 L357.73,69.52 L359.03,69.29 L360.32,69.06 L361.61,68.84 L362.90,68.61 L364.19,68.40 L365.48,68.18 L366.77,67.97 L368.06,67.77 L369.35,67.56 L370.64,67.36 L371.93,67.16 L373.22,66.97 L374.52,66.78 L375.81,66.59 L377.10,66.40 L378.39,66.21 L379.68,66.03 L380.97,65.84 L382.26,65.66 L383.55,65.48 L384.84,65.30 L386.13,65.12 L387.42,64.94 L388.71,64.77 L390.01,64.59 L391.30,64.42 L392.59,64.24 L393.88,64.07 L395.17,63.90 L396.46,63.73 L397.75,63.56 L399.04,63.40 L400.33,63.24 L401.62,63.09 L402.91,62.94 L404.20,62.79 L405.49,62.65 L406.79,62.52 L408.08,62.39 L409.37,62.26 L410.66,62.14 L411.95,62.03 L413.24,61.91 L414.53,61.81 L415.82,61.70 L417.11,61.60 L418.40,61.51 L419.69,61.42 L420.98,61.34 L422.28,61.26 L423.57,61.18 L424.86,61.11 L426.15,61.04 L427.44,60.98 L428.73,60.92 L430.02,60.86 L431.31,60.81 L432.60,60.76 L433.89,60.71 L435.18,60.66 L436.47,60.62 L437.77,60.59 L439.06,60.55 L440.35,60.52 L441.64,60.49 L442.93,60.46 L444.22,60.44 L445.51,60.42 L446.80,60.40 L448.09,60.38 L449.38,60.36 L450.67,60.35 L451.96,60.34 L453.26,60.33 L454.55,60.32 L455.84,60.31 L457.13,60.31 L458.42,60.30 L459.71,60.30 L461.00,60.30" stroke="#7f7f7f"/>
</g>
<line x1="69.0" y1="352.3" x2="461.0" y2="60.30000000000001" stroke="#808080" stroke-width="2.0" stroke-dasharray="6.85 2.75"/>
<rect x="49.4" y="45.6" width="430.40" height="321.40" fill="none" stroke="#141414" stroke-width="1.05"/>
<g stroke="#141414" stroke-width="1.05">
<line x1="69.00" y1="367.0" x2="69.00" y2="371.4"/>
<line x1="49.4" y1="352.30" x2="45.0" y2="352.30"/>
<line x1="147.40" y1="367.0" x2="147.40" y2="371.4"/>
<line x1="49.4" y1="293.90" x2="45.0" y2="293.90"/>
<line x1="225.80" y1="367.0" x2="225.80" y2="371.4"/>
<line x1="49.4" y1="235.50" x2="45.0" y2="235.50"/>
<line x1="304.20" y1="367.0" x2="304.20" y2="371.4"/>
<line x1="49.4" y1="177.10" x2="45.0" y2="177.10"/>
<line x1="382.60" y1="367.0" x2="382.60" y2="371.4"/>
<line x1="49.4" y1="118.70" x2="45.0" y2="118.70"/>
<line x1="461.00" y1="367.0" x2="461.00" y2="371.4"/>
<line x1="49.4" y1="60.30" x2="45.0" y2="60.30"/>
</g>
<text y="385.00" font-size="12.7" style="stroke-width:0.18px"><tspan x="60.07" textLength="17.67" lengthAdjust="spacingAndGlyphs">0.0</tspan></text>
<text y="356.75" font-size="12.7" style="stroke-width:0.18px"><tspan x="22.37" textLength="17.67" lengthAdjust="spacingAndGlyphs">0.0</tspan></text>
<text y="385.00" font-size="12.7" style="stroke-width:0.18px"><tspan x="138.45" textLength="18.09" lengthAdjust="spacingAndGlyphs">0.2</tspan></text>
<text y="298.35" font-size="12.7" style="stroke-width:0.18px"><tspan x="22.35" textLength="18.09" lengthAdjust="spacingAndGlyphs">0.2</tspan></text>
<text y="385.00" font-size="12.7" style="stroke-width:0.18px"><tspan x="216.87" textLength="17.55" lengthAdjust="spacingAndGlyphs">0.4</tspan></text>
<text y="239.95" font-size="12.7" style="stroke-width:0.18px"><tspan x="22.37" textLength="17.55" lengthAdjust="spacingAndGlyphs">0.4</tspan></text>
<text y="385.00" font-size="12.7" style="stroke-width:0.18px"><tspan x="295.27" textLength="17.63" lengthAdjust="spacingAndGlyphs">0.6</tspan></text>
<text y="181.55" font-size="12.7" style="stroke-width:0.18px"><tspan x="22.37" textLength="17.63" lengthAdjust="spacingAndGlyphs">0.6</tspan></text>
<text y="385.00" font-size="12.7" style="stroke-width:0.18px"><tspan x="373.67" textLength="17.69" lengthAdjust="spacingAndGlyphs">0.8</tspan></text>
<text y="123.15" font-size="12.7" style="stroke-width:0.18px"><tspan x="22.37" textLength="17.69" lengthAdjust="spacingAndGlyphs">0.8</tspan></text>
<text y="385.00" font-size="12.7" style="stroke-width:0.18px"><tspan x="451.54" textLength="18.22" lengthAdjust="spacingAndGlyphs">1.0</tspan></text>
<text y="64.75" font-size="12.7" style="stroke-width:0.18px"><tspan x="21.84" textLength="18.22" lengthAdjust="spacingAndGlyphs">1.0</tspan></text>
<text y="17.60" font-size="17.1" style="fill:#0c0c0c;stroke:#0c0c0c;stroke-width:0.2px"><tspan x="134.87" textLength="83.70" lengthAdjust="spacingAndGlyphs">Validation</tspan> <tspan x="223.95" textLength="24.25" lengthAdjust="spacingAndGlyphs">vs.</tspan> <tspan x="253.59" textLength="33.38" lengthAdjust="spacingAndGlyphs">Test</tspan> <tspan x="292.35" textLength="36.95" lengthAdjust="spacingAndGlyphs">ROC</tspan> <tspan x="334.69" textLength="58.83" lengthAdjust="spacingAndGlyphs">Curves</tspan></text>
<text y="38.20" font-size="12.7" style="stroke-width:0.15px"><tspan x="184.01" textLength="23.81" lengthAdjust="spacingAndGlyphs">Low</tspan> <tspan x="211.66" textLength="22.75" lengthAdjust="spacingAndGlyphs">and</tspan> <tspan x="238.25" textLength="60.90" lengthAdjust="spacingAndGlyphs">High-level</tspan> <tspan x="302.99" textLength="42.60" lengthAdjust="spacingAndGlyphs">Models</tspan></text>
<text y="401.50" font-size="12.7" style="stroke-width:0.15px"><tspan x="208.11" textLength="30.53" lengthAdjust="spacingAndGlyphs">False</tspan> <tspan x="242.50" textLength="46.89" lengthAdjust="spacingAndGlyphs">Positive</tspan> <tspan x="293.26" textLength="27.89" lengthAdjust="spacingAndGlyphs">Rate</tspan></text>
<g transform="translate(13.3,260.8) rotate(-90)"><text y="0.00" font-size="12.7" style="stroke-width:0.15px"><tspan x="0.04" textLength="25.66" lengthAdjust="spacingAndGlyphs">True</tspan> <tspan x="29.53" textLength="46.57" lengthAdjust="spacingAndGlyphs">Positive</tspan> <tspan x="79.94" textLength="27.70" lengthAdjust="spacingAndGlyphs">Rate</tspan></text></g>
<rect x="507.3" y="140.3" width="257.8" height="132.6" rx="2.2" ry="2.2" fill="#ffffff" stroke="#cccccc" stroke-width="1"/>
<line x1="509.6" y1="148.20" x2="531.9" y2="148.20" stroke="#1f77b4" stroke-width="1.8"/>
<text y="152.35" font-size="10.4"><tspan x="539.00" textLength="37.08" lengthAdjust="spacingAndGlyphs">Default</tspan> <tspan x="579.31" textLength="47.78" lengthAdjust="spacingAndGlyphs">Low-level</tspan> <tspan x="630.31" textLength="33.89" lengthAdjust="spacingAndGlyphs">Model:</tspan> <tspan x="667.43" textLength="15.19" lengthAdjust="spacingAndGlyphs">Val</tspan> <tspan x="685.85" textLength="25.42" lengthAdjust="spacingAndGlyphs">(AUC</tspan> <tspan x="715.17" textLength="7.14" lengthAdjust="spacingAndGlyphs">=</tspan> <tspan x="726.22" textLength="26.56" lengthAdjust="spacingAndGlyphs">0.69)</tspan></text>
<line x1="509.6" y1="164.53" x2="531.9" y2="164.53" stroke="#ff7f0e" stroke-width="1.8"/>
<text y="168.68" font-size="10.4"><tspan x="539.00" textLength="37.05" lengthAdjust="spacingAndGlyphs">Default</tspan> <tspan x="579.27" textLength="47.74" lengthAdjust="spacingAndGlyphs">Low-level</tspan> <tspan x="630.23" textLength="33.86" lengthAdjust="spacingAndGlyphs">Model:</tspan> <tspan x="667.32" textLength="19.97" lengthAdjust="spacingAndGlyphs">Test</tspan> <tspan x="690.51" textLength="25.39" lengthAdjust="spacingAndGlyphs">(AUC</tspan> <tspan x="719.80" textLength="7.14" lengthAdjust="spacingAndGlyphs">=</tspan> <tspan x="730.84" textLength="26.53" lengthAdjust="spacingAndGlyphs">0.69)</tspan></text>
<line x1="509.6" y1="180.86" x2="531.9" y2="180.86" stroke="#2ca02c" stroke-width="1.8"/>
<text y="185.01" font-size="10.4"><tspan x="539.01" textLength="37.04" lengthAdjust="spacingAndGlyphs">Default</tspan> <tspan x="579.27" textLength="51.06" lengthAdjust="spacingAndGlyphs">High-level</tspan> <tspan x="633.55" textLength="33.85" lengthAdjust="spacingAndGlyphs">Model:</tspan> <tspan x="670.62" textLength="15.18" lengthAdjust="spacingAndGlyphs">Val</tspan> <tspan x="689.02" textLength="25.39" lengthAdjust="spacingAndGlyphs">(AUC</tspan> <tspan x="718.31" textLength="7.13" lengthAdjust="spacingAndGlyphs">=</tspan> <tspan x="729.35" textLength="26.53" lengthAdjust="spacingAndGlyphs">0.78)</tspan></text>
<line x1="509.6" y1="197.19" x2="531.9" y2="197.19" stroke="#d62728" stroke-width="1.8"/>
<text y="201.34" font-size="10.4"><tspan x="539.01" textLength="37.01" lengthAdjust="spacingAndGlyphs">Default</tspan> <tspan x="579.23" textLength="51.02" lengthAdjust="spacingAndGlyphs">High-level</tspan> <tspan x="633.47" textLength="33.82" lengthAdjust="spacingAndGlyphs">Model:</tspan> <tspan x="670.51" textLength="19.95" lengthAdjust="spacingAndGlyphs">Test</tspan> <tspan x="693.68" textLength="25.37" lengthAdjust="spacingAndGlyphs">(AUC</tspan> <tspan x="722.94" textLength="7.13" lengthAdjust="spacingAndGlyphs">=</tspan> <tspan x="733.97" textLength="26.50" lengthAdjust="spacingAndGlyphs">0.78)</tspan></text>
<line x1="509.6" y1="213.52" x2="531.9" y2="213.52" stroke="#9467bd" stroke-width="1.8"/>
<text y="217.67" font-size="10.4"><tspan x="539.23" textLength="30.18" lengthAdjust="spacingAndGlyphs">Tuned</tspan> <tspan x="572.64" textLength="47.74" lengthAdjust="spacingAndGlyphs">Low-level</tspan> <tspan x="623.60" textLength="33.86" lengthAdjust="spacingAndGlyphs">Model:</tspan> <tspan x="660.69" textLength="15.18" lengthAdjust="spacingAndGlyphs">Val</tspan> <tspan x="679.10" textLength="25.40" lengthAdjust="spacingAndGlyphs">(AUC</tspan> <tspan x="708.40" textLength="7.14" lengthAdjust="spacingAndGlyphs">=</tspan> <tspan x="719.44" textLength="26.54" lengthAdjust="spacingAndGlyphs">0.79)</tspan></text>
<line x1="509.6" y1="229.85" x2="531.9" y2="229.85" stroke="#8c564b" stroke-width="1.8"/>
<text y="234.00" font-size="10.4"><tspan x="539.23" textLength="30.16" lengthAdjust="spacingAndGlyphs">Tuned</tspan> <tspan x="572.61" textLength="47.70" lengthAdjust="spacingAndGlyphs">Low-level</tspan> <tspan x="623.53" textLength="33.83" lengthAdjust="spacingAndGlyphs">Model:</tspan> <tspan x="660.58" textLength="19.95" lengthAdjust="spacingAndGlyphs">Test</tspan> <tspan x="683.75" textLength="25.37" lengthAdjust="spacingAndGlyphs">(AUC</tspan> <tspan x="713.03" textLength="7.13" lengthAdjust="spacingAndGlyphs">=</tspan> <tspan x="724.06" textLength="26.51" lengthAdjust="spacingAndGlyphs">0.79)</tspan></text>
<line x1="509.6" y1="246.18" x2="531.9" y2="246.18" stroke="#e377c2" stroke-width="1.8"/>
<text y="250.33" font-size="10.4"><tspan x="539.23" textLength="30.18" lengthAdjust="spacingAndGlyphs">Tuned</tspan> <tspan x="572.63" textLength="51.07" lengthAdjust="spacingAndGlyphs">High-level</tspan> <tspan x="626.93" textLength="33.86" lengthAdjust="spacingAndGlyphs">Model:</tspan> <tspan x="664.01" textLength="15.18" lengthAdjust="spacingAndGlyphs">Val</tspan> <tspan x="682.41" textLength="25.39" lengthAdjust="spacingAndGlyphs">(AUC</tspan> <tspan x="711.70" textLength="7.14" lengthAdjust="spacingAndGlyphs">=</tspan> <tspan x="722.74" textLength="26.53" lengthAdjust="spacingAndGlyphs">0.80)</tspan></text>
<line x1="509.6" y1="262.51" x2="531.9" y2="262.51" stroke="#7f7f7f" stroke-width="1.8"/>
<text y="266.66" font-size="10.4"><tspan x="539.23" textLength="30.14" lengthAdjust="spacingAndGlyphs">Tuned</tspan> <tspan x="572.59" textLength="51.00" lengthAdjust="spacingAndGlyphs">High-level</tspan> <tspan x="626.81" textLength="33.81" lengthAdjust="spacingAndGlyphs">Model:</tspan> <tspan x="663.84" textLength="19.94" lengthAdjust="spacingAndGlyphs">Test</tspan> <tspan x="687.00" textLength="25.36" lengthAdjust="spacingAndGlyphs">(AUC</tspan> <tspan x="716.25" textLength="7.13" lengthAdjust="spacingAndGlyphs">=</tspan> <tspan x="727.28" textLength="26.49" lengthAdjust="spacingAndGlyphs">0.80)</tspan></text>
</g>
</svg>
</body></html>
